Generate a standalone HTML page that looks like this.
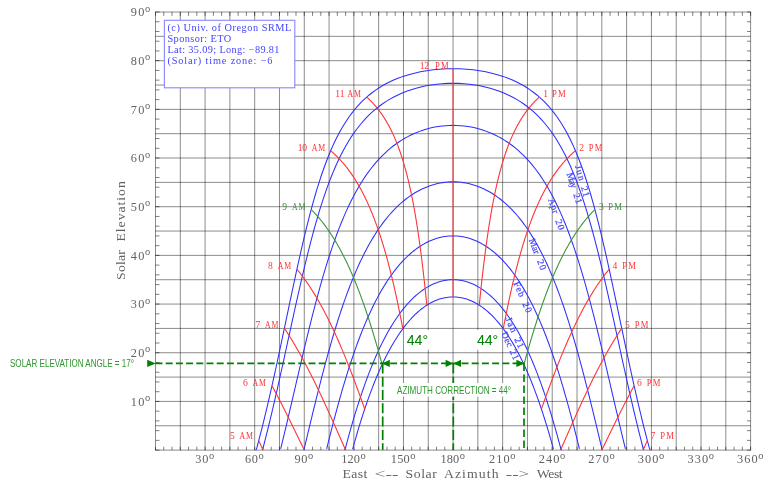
<!DOCTYPE html>
<html><head><meta charset="utf-8"><title>Sun path chart</title>
<style>html,body{margin:0;padding:0;background:#fff}svg{display:block;will-change:transform}</style></head>
<body>
<svg width="768" height="486" viewBox="0 0 768 486">
<rect width="768" height="486" fill="#fff"/>
<path d="M155.5 11.75V450.35M180.3 11.75V450.35M205.09 11.75V450.35M229.89 11.75V450.35M254.68 11.75V450.35M279.48 11.75V450.35M304.27 11.75V450.35M329.07 11.75V450.35M353.87 11.75V450.35M378.66 11.75V450.35M403.46 11.75V450.35M428.25 11.75V450.35M453.05 11.75V450.35M477.85 11.75V450.35M502.64 11.75V450.35M527.44 11.75V450.35M552.23 11.75V450.35M577.03 11.75V450.35M601.83 11.75V450.35M626.62 11.75V450.35M651.42 11.75V450.35M676.21 11.75V450.35M701.01 11.75V450.35M725.8 11.75V450.35M750.6 11.75V450.35M155.25 450.1H750.85M155.25 425.76H750.85M155.25 401.42H750.85M155.25 377.08H750.85M155.25 352.74H750.85M155.25 328.41H750.85M155.25 304.07H750.85M155.25 279.73H750.85M155.25 255.39H750.85M155.25 231.05H750.85M155.25 206.71H750.85M155.25 182.37H750.85M155.25 158.03H750.85M155.25 133.69H750.85M155.25 109.36H750.85M155.25 85.02H750.85M155.25 60.68H750.85M155.25 36.34H750.85M155.25 12.0H750.85" stroke="#000" stroke-width="0.46" fill="none"/>
<path d="M155.5 450.1v-3.4M155.5 12.0v3.9M163.77 450.1v-3.4M163.77 12.0v3.9M172.03 450.1v-3.4M172.03 12.0v3.9M180.3 450.1v-3.4M180.3 12.0v3.9M188.56 450.1v-3.4M188.56 12.0v3.9M196.83 450.1v-3.4M196.83 12.0v3.9M205.09 450.1v-3.4M205.09 12.0v3.9M213.36 450.1v-3.4M213.36 12.0v3.9M221.62 450.1v-3.4M221.62 12.0v3.9M229.89 450.1v-3.4M229.89 12.0v3.9M238.15 450.1v-3.4M238.15 12.0v3.9M246.42 450.1v-3.4M246.42 12.0v3.9M254.68 450.1v-3.4M254.68 12.0v3.9M262.95 450.1v-3.4M262.95 12.0v3.9M271.21 450.1v-3.4M271.21 12.0v3.9M279.48 450.1v-3.4M279.48 12.0v3.9M287.74 450.1v-3.4M287.74 12.0v3.9M296.01 450.1v-3.4M296.01 12.0v3.9M304.27 450.1v-3.4M304.27 12.0v3.9M312.54 450.1v-3.4M312.54 12.0v3.9M320.81 450.1v-3.4M320.81 12.0v3.9M329.07 450.1v-3.4M329.07 12.0v3.9M337.34 450.1v-3.4M337.34 12.0v3.9M345.6 450.1v-3.4M345.6 12.0v3.9M353.87 450.1v-3.4M353.87 12.0v3.9M362.13 450.1v-3.4M362.13 12.0v3.9M370.4 450.1v-3.4M370.4 12.0v3.9M378.66 450.1v-3.4M378.66 12.0v3.9M386.93 450.1v-3.4M386.93 12.0v3.9M395.19 450.1v-3.4M395.19 12.0v3.9M403.46 450.1v-3.4M403.46 12.0v3.9M411.72 450.1v-3.4M411.72 12.0v3.9M419.99 450.1v-3.4M419.99 12.0v3.9M428.25 450.1v-3.4M428.25 12.0v3.9M436.52 450.1v-3.4M436.52 12.0v3.9M444.78 450.1v-3.4M444.78 12.0v3.9M453.05 450.1v-3.4M453.05 12.0v3.9M461.32 450.1v-3.4M461.32 12.0v3.9M469.58 450.1v-3.4M469.58 12.0v3.9M477.85 450.1v-3.4M477.85 12.0v3.9M486.11 450.1v-3.4M486.11 12.0v3.9M494.38 450.1v-3.4M494.38 12.0v3.9M502.64 450.1v-3.4M502.64 12.0v3.9M510.91 450.1v-3.4M510.91 12.0v3.9M519.17 450.1v-3.4M519.17 12.0v3.9M527.44 450.1v-3.4M527.44 12.0v3.9M535.7 450.1v-3.4M535.7 12.0v3.9M543.97 450.1v-3.4M543.97 12.0v3.9M552.23 450.1v-3.4M552.23 12.0v3.9M560.5 450.1v-3.4M560.5 12.0v3.9M568.76 450.1v-3.4M568.76 12.0v3.9M577.03 450.1v-3.4M577.03 12.0v3.9M585.29 450.1v-3.4M585.29 12.0v3.9M593.56 450.1v-3.4M593.56 12.0v3.9M601.83 450.1v-3.4M601.83 12.0v3.9M610.09 450.1v-3.4M610.09 12.0v3.9M618.36 450.1v-3.4M618.36 12.0v3.9M626.62 450.1v-3.4M626.62 12.0v3.9M634.89 450.1v-3.4M634.89 12.0v3.9M643.15 450.1v-3.4M643.15 12.0v3.9M651.42 450.1v-3.4M651.42 12.0v3.9M659.68 450.1v-3.4M659.68 12.0v3.9M667.95 450.1v-3.4M667.95 12.0v3.9M676.21 450.1v-3.4M676.21 12.0v3.9M684.48 450.1v-3.4M684.48 12.0v3.9M692.74 450.1v-3.4M692.74 12.0v3.9M701.01 450.1v-3.4M701.01 12.0v3.9M709.27 450.1v-3.4M709.27 12.0v3.9M717.54 450.1v-3.4M717.54 12.0v3.9M725.8 450.1v-3.4M725.8 12.0v3.9M734.07 450.1v-3.4M734.07 12.0v3.9M742.33 450.1v-3.4M742.33 12.0v3.9M750.6 450.1v-3.4M750.6 12.0v3.9M155.5 450.1h4.0M750.6 450.1h-3.6M155.5 440.36h4.0M750.6 440.36h-3.6M155.5 430.63h4.0M750.6 430.63h-3.6M155.5 420.89h4.0M750.6 420.89h-3.6M155.5 411.16h4.0M750.6 411.16h-3.6M155.5 401.42h4.0M750.6 401.42h-3.6M155.5 391.69h4.0M750.6 391.69h-3.6M155.5 381.95h4.0M750.6 381.95h-3.6M155.5 372.22h4.0M750.6 372.22h-3.6M155.5 362.48h4.0M750.6 362.48h-3.6M155.5 352.74h4.0M750.6 352.74h-3.6M155.5 343.01h4.0M750.6 343.01h-3.6M155.5 333.27h4.0M750.6 333.27h-3.6M155.5 323.54h4.0M750.6 323.54h-3.6M155.5 313.8h4.0M750.6 313.8h-3.6M155.5 304.07h4.0M750.6 304.07h-3.6M155.5 294.33h4.0M750.6 294.33h-3.6M155.5 284.6h4.0M750.6 284.6h-3.6M155.5 274.86h4.0M750.6 274.86h-3.6M155.5 265.12h4.0M750.6 265.12h-3.6M155.5 255.39h4.0M750.6 255.39h-3.6M155.5 245.65h4.0M750.6 245.65h-3.6M155.5 235.92h4.0M750.6 235.92h-3.6M155.5 226.18h4.0M750.6 226.18h-3.6M155.5 216.45h4.0M750.6 216.45h-3.6M155.5 206.71h4.0M750.6 206.71h-3.6M155.5 196.98h4.0M750.6 196.98h-3.6M155.5 187.24h4.0M750.6 187.24h-3.6M155.5 177.5h4.0M750.6 177.5h-3.6M155.5 167.77h4.0M750.6 167.77h-3.6M155.5 158.03h4.0M750.6 158.03h-3.6M155.5 148.3h4.0M750.6 148.3h-3.6M155.5 138.56h4.0M750.6 138.56h-3.6M155.5 128.83h4.0M750.6 128.83h-3.6M155.5 119.09h4.0M750.6 119.09h-3.6M155.5 109.36h4.0M750.6 109.36h-3.6M155.5 99.62h4.0M750.6 99.62h-3.6M155.5 89.88h4.0M750.6 89.88h-3.6M155.5 80.15h4.0M750.6 80.15h-3.6M155.5 70.41h4.0M750.6 70.41h-3.6M155.5 60.68h4.0M750.6 60.68h-3.6M155.5 50.94h4.0M750.6 50.94h-3.6M155.5 41.21h4.0M750.6 41.21h-3.6M155.5 31.47h4.0M750.6 31.47h-3.6M155.5 21.74h4.0M750.6 21.74h-3.6M155.5 12.0h4.0M750.6 12.0h-3.6" stroke="#000" stroke-width="0.5" fill="none"/>
<path d="M255.94 450.10L256.79 447.89L257.64 444.74L258.48 441.57L259.32 438.39L260.15 435.19L260.97 431.98L261.79 428.76L262.60 425.52L263.40 422.27L264.21 419.01L265.00 415.74L265.80 412.45L266.58 409.15L267.37 405.84L268.15 402.52L268.92 399.19L269.69 395.84L270.46 392.49L271.22 389.13L271.99 385.75L272.74 382.37L273.50 378.98L274.25 375.58L275.00 372.16L275.75 368.75L276.50 365.32L277.24 361.88L277.98 358.44L278.72 354.99L279.46 351.53L280.20 348.06L280.94 344.59L281.68 341.11L282.41 337.62L283.15 334.13L283.88 330.63L284.62 327.13L285.36 323.62L286.10 320.10L286.84 316.58L287.58 313.05L288.32 309.52L289.06 305.98L289.81 302.44L290.55 298.90L291.31 295.35L292.06 291.80L292.82 288.24L293.58 284.68L294.34 281.11L295.11 277.55L295.89 273.98L296.66 270.41L297.45 266.83L298.24 263.26L299.04 259.68L299.84 256.10L300.65 252.52L301.47 248.93L302.30 245.35L303.14 241.77L303.98 238.18L304.84 234.60L305.71 231.01L306.59 227.43L307.48 223.84L308.39 220.26L309.31 216.68L310.24 213.10L311.19 209.53L312.16 205.95L313.14 202.38L314.15 198.81L315.17 195.25L316.22 191.69L317.29 188.14L318.39 184.59L319.51 181.05L320.66 177.51L321.84 173.99L323.06 170.47L324.31 166.96L325.59 163.46L326.92 159.97L328.29 156.49L329.70 153.03L331.17 149.58L332.68 146.15L334.26 142.73L335.89 139.34L337.59 135.96L339.37 132.61L341.22 129.28L343.15 125.98L345.17 122.70L347.29 119.47L349.52 116.26L351.86 113.10L354.32 109.98L356.92 106.91L359.67 103.89L362.57 100.93L365.64 98.04L368.89 95.22L372.35 92.48L376.01 89.83L379.90 87.27L384.03 84.83L388.41 82.50L393.06 80.31L397.97 78.26L403.17 76.38L408.64 74.66L414.38 73.14L420.37 71.82L426.60 70.72L433.02 69.85L439.61 69.22L446.30 68.84L453.05 68.71L459.80 68.84L466.49 69.22L473.08 69.85L479.50 70.72L485.73 71.82L491.72 73.14L497.46 74.66L502.93 76.38L508.13 78.26L513.04 80.31L517.69 82.50L522.07 84.83L526.20 87.27L530.09 89.83L533.75 92.48L537.21 95.22L540.46 98.04L543.53 100.93L546.43 103.89L549.18 106.91L551.78 109.98L554.24 113.10L556.58 116.26L558.81 119.47L560.93 122.70L562.95 125.98L564.88 129.28L566.73 132.61L568.51 135.96L570.21 139.34L571.84 142.73L573.42 146.15L574.93 149.58L576.40 153.03L577.81 156.49L579.18 159.97L580.51 163.46L581.79 166.96L583.04 170.47L584.26 173.99L585.44 177.51L586.59 181.05L587.71 184.59L588.81 188.14L589.88 191.69L590.93 195.25L591.95 198.81L592.96 202.38L593.94 205.95L594.91 209.53L595.86 213.10L596.79 216.68L597.71 220.26L598.62 223.84L599.51 227.43L600.39 231.01L601.26 234.60L602.12 238.18L602.96 241.77L603.80 245.35L604.63 248.93L605.45 252.52L606.26 256.10L607.06 259.68L607.86 263.26L608.65 266.83L609.44 270.41L610.21 273.98L610.99 277.55L611.76 281.11L612.52 284.68L613.28 288.24L614.04 291.80L614.79 295.35L615.55 298.90L616.29 302.44L617.04 305.98L617.78 309.52L618.52 313.05L619.26 316.58L620.00 320.10L620.74 323.62L621.48 327.13L622.22 330.63L622.95 334.13L623.69 337.62L624.42 341.11L625.16 344.59L625.90 348.06L626.64 351.53L627.38 354.99L628.12 358.44L628.86 361.88L629.60 365.32L630.35 368.75L631.10 372.16L631.85 375.58L632.60 378.98L633.36 382.37L634.11 385.75L634.88 389.13L635.64 392.49L636.41 395.84L637.18 399.19L637.95 402.52L638.73 405.84L639.52 409.15L640.30 412.45L641.10 415.74L641.89 419.01L642.70 422.27L643.50 425.52L644.31 428.76L645.13 431.98L645.95 435.19L646.78 438.39L647.62 441.57L648.46 444.74L649.31 447.89L650.16 450.10" stroke="#2e2eff" stroke-width="1.05" fill="none"/>
<path d="M262.38 450.10L263.24 447.26L264.08 444.00L264.93 440.73L265.76 437.44L266.59 434.14L267.42 430.83L268.24 427.51L269.05 424.17L269.87 420.83L270.67 417.47L271.48 414.11L272.28 410.73L273.07 407.34L273.87 403.94L274.66 400.54L275.44 397.12L276.23 393.70L277.01 390.27L277.79 386.82L278.56 383.37L279.34 379.92L280.11 376.45L280.88 372.98L281.65 369.50L282.42 366.01L283.19 362.52L283.96 359.02L284.72 355.52L285.49 352.00L286.26 348.49L287.03 344.96L287.80 341.44L288.56 337.90L289.33 334.37L290.11 330.82L290.88 327.28L291.66 323.72L292.43 320.17L293.21 316.61L294.00 313.05L294.78 309.48L295.57 305.92L296.37 302.34L297.16 298.77L297.97 295.20L298.77 291.62L299.59 288.04L300.41 284.46L301.23 280.87L302.06 277.29L302.90 273.71L303.75 270.12L304.60 266.54L305.46 262.95L306.34 259.37L307.22 255.79L308.11 252.20L309.01 248.62L309.93 245.04L310.86 241.47L311.80 237.89L312.75 234.32L313.72 230.75L314.70 227.18L315.71 223.62L316.72 220.07L317.76 216.52L318.82 212.97L319.90 209.43L321.00 205.90L322.12 202.37L323.27 198.86L324.44 195.35L325.65 191.85L326.88 188.36L328.14 184.88L329.44 181.42L330.77 177.97L332.14 174.53L333.56 171.10L335.01 167.70L336.51 164.31L338.06 160.94L339.66 157.59L341.32 154.27L343.03 150.96L344.81 147.69L346.65 144.44L348.57 141.23L350.56 138.04L352.64 134.90L354.80 131.79L357.05 128.72L359.40 125.71L361.86 122.74L364.43 119.82L367.13 116.97L369.94 114.18L372.89 111.46L375.99 108.81L379.23 106.25L382.63 103.77L386.19 101.40L389.92 99.13L393.83 96.97L397.91 94.93L402.17 93.03L406.62 91.27L411.24 89.66L416.03 88.21L420.98 86.93L426.07 85.83L431.30 84.92L436.64 84.20L442.06 83.68L447.54 83.37L453.05 83.26L458.56 83.37L464.04 83.68L469.46 84.20L474.80 84.92L480.03 85.83L485.12 86.93L490.07 88.21L494.86 89.66L499.48 91.27L503.93 93.03L508.19 94.93L512.27 96.97L516.18 99.13L519.91 101.40L523.47 103.77L526.87 106.25L530.11 108.81L533.21 111.46L536.16 114.18L538.97 116.97L541.67 119.82L544.24 122.74L546.70 125.71L549.05 128.72L551.30 131.79L553.46 134.90L555.54 138.04L557.53 141.23L559.45 144.44L561.29 147.69L563.07 150.96L564.78 154.27L566.44 157.59L568.04 160.94L569.59 164.31L571.09 167.70L572.54 171.10L573.96 174.53L575.33 177.97L576.66 181.42L577.96 184.88L579.22 188.36L580.45 191.85L581.66 195.35L582.83 198.86L583.98 202.37L585.10 205.90L586.20 209.43L587.28 212.97L588.34 216.52L589.38 220.07L590.39 223.62L591.40 227.18L592.38 230.75L593.35 234.32L594.30 237.89L595.24 241.47L596.17 245.04L597.09 248.62L597.99 252.20L598.88 255.79L599.76 259.37L600.64 262.95L601.50 266.54L602.35 270.12L603.20 273.71L604.04 277.29L604.87 280.87L605.69 284.46L606.51 288.04L607.33 291.62L608.13 295.20L608.94 298.77L609.73 302.34L610.53 305.92L611.32 309.48L612.10 313.05L612.89 316.61L613.67 320.17L614.44 323.72L615.22 327.28L615.99 330.82L616.77 334.37L617.54 337.90L618.30 341.44L619.07 344.96L619.84 348.49L620.61 352.00L621.38 355.52L622.14 359.02L622.91 362.52L623.68 366.01L624.45 369.50L625.22 372.98L625.99 376.45L626.76 379.92L627.54 383.37L628.31 386.82L629.09 390.27L629.87 393.70L630.66 397.12L631.44 400.54L632.23 403.94L633.03 407.34L633.82 410.73L634.62 414.11L635.43 417.47L636.23 420.83L637.05 424.17L637.86 427.51L638.68 430.83L639.51 434.14L640.34 437.44L641.17 440.73L642.02 444.00L642.86 447.26L643.72 450.10" stroke="#2e2eff" stroke-width="1.05" fill="none"/>
<path d="M280.67 448.79L281.53 445.31L282.37 441.83L283.22 438.33L284.06 434.83L284.90 431.33L285.74 427.81L286.57 424.29L287.41 420.77L288.24 417.24L289.07 413.70L289.90 410.16L290.73 406.61L291.56 403.06L292.38 399.51L293.21 395.95L294.04 392.39L294.87 388.82L295.69 385.25L296.52 381.68L297.35 378.11L298.19 374.53L299.02 370.95L299.86 367.37L300.70 363.79L301.54 360.21L302.38 356.63L303.23 353.04L304.09 349.46L304.94 345.87L305.80 342.29L306.67 338.70L307.54 335.12L308.42 331.54L309.30 327.96L310.19 324.38L311.08 320.80L311.99 317.23L312.90 313.66L313.81 310.09L314.74 306.52L315.68 302.96L316.62 299.41L317.58 295.85L318.54 292.31L319.52 288.77L320.51 285.23L321.51 281.70L322.52 278.18L323.55 274.67L324.59 271.16L325.65 267.66L326.72 264.17L327.81 260.69L328.91 257.22L330.04 253.76L331.18 250.32L332.34 246.88L333.53 243.46L334.73 240.05L335.96 236.66L337.21 233.28L338.49 229.92L339.79 226.57L341.12 223.25L342.47 219.94L343.86 216.65L345.28 213.39L346.73 210.15L348.22 206.93L349.74 203.73L351.30 200.57L352.90 197.43L354.54 194.32L356.22 191.25L357.94 188.21L359.71 185.20L361.53 182.23L363.40 179.30L365.33 176.41L367.30 173.57L369.34 170.78L371.43 168.03L373.58 165.33L375.79 162.70L378.07 160.12L380.42 157.60L382.83 155.14L385.31 152.76L387.87 150.44L390.50 148.20L393.20 146.04L395.97 143.97L398.83 141.98L401.75 140.09L404.76 138.29L407.83 136.59L410.98 134.99L414.20 133.51L417.49 132.14L420.84 130.88L424.25 129.75L427.72 128.74L431.24 127.85L434.80 127.10L438.40 126.48L442.04 126.00L445.69 125.65L449.37 125.44L453.05 125.37L456.73 125.44L460.41 125.65L464.06 126.00L467.70 126.48L471.30 127.10L474.86 127.85L478.38 128.74L481.85 129.75L485.26 130.88L488.61 132.14L491.90 133.51L495.12 134.99L498.27 136.59L501.34 138.29L504.35 140.09L507.27 141.98L510.13 143.97L512.90 146.04L515.60 148.20L518.23 150.44L520.79 152.76L523.27 155.14L525.68 157.60L528.03 160.12L530.31 162.70L532.52 165.33L534.67 168.03L536.76 170.78L538.80 173.57L540.77 176.41L542.70 179.30L544.57 182.23L546.39 185.20L548.16 188.21L549.88 191.25L551.56 194.32L553.20 197.43L554.80 200.57L556.36 203.73L557.88 206.93L559.37 210.15L560.82 213.39L562.24 216.65L563.63 219.94L564.98 223.25L566.31 226.57L567.61 229.92L568.89 233.28L570.14 236.66L571.37 240.05L572.57 243.46L573.76 246.88L574.92 250.32L576.06 253.76L577.19 257.22L578.29 260.69L579.38 264.17L580.45 267.66L581.51 271.16L582.55 274.67L583.58 278.18L584.59 281.70L585.59 285.23L586.58 288.77L587.56 292.31L588.52 295.85L589.48 299.41L590.42 302.96L591.36 306.52L592.29 310.09L593.20 313.66L594.11 317.23L595.02 320.80L595.91 324.38L596.80 327.96L597.68 331.54L598.56 335.12L599.43 338.70L600.30 342.29L601.16 345.87L602.01 349.46L602.87 353.04L603.72 356.63L604.56 360.21L605.40 363.79L606.24 367.37L607.08 370.95L607.91 374.53L608.75 378.11L609.58 381.68L610.41 385.25L611.23 388.82L612.06 392.39L612.89 395.95L613.72 399.51L614.54 403.06L615.37 406.61L616.20 410.16L617.03 413.70L617.86 417.24L618.69 420.77L619.53 424.29L620.36 427.81L621.20 431.33L622.04 434.83L622.88 438.33L623.73 441.83L624.57 445.31L625.43 448.79" stroke="#2e2eff" stroke-width="1.05" fill="none"/>
<path d="M304.00 449.54L304.86 445.96L305.72 442.37L306.57 438.79L307.43 435.20L308.29 431.62L309.15 428.04L310.01 424.46L310.87 420.88L311.74 417.31L312.60 413.74L313.47 410.17L314.35 406.60L315.23 403.04L316.11 399.48L316.99 395.93L317.88 392.38L318.78 388.83L319.67 385.29L320.58 381.76L321.49 378.23L322.41 374.70L323.33 371.19L324.26 367.68L325.19 364.18L326.14 360.68L327.09 357.20L328.05 353.72L329.02 350.25L330.00 346.80L330.98 343.35L331.98 339.91L332.99 336.48L334.00 333.07L335.03 329.66L336.07 326.27L337.12 322.89L338.19 319.53L339.27 316.18L340.36 312.84L341.46 309.52L342.58 306.22L343.72 302.93L344.87 299.66L346.03 296.41L347.22 293.18L348.42 289.97L349.63 286.78L350.87 283.60L352.13 280.46L353.40 277.33L354.70 274.23L356.01 271.15L357.35 268.10L358.71 265.08L360.10 262.09L361.51 259.12L362.94 256.19L364.40 253.29L365.88 250.42L367.39 247.58L368.93 244.78L370.49 242.02L372.09 239.29L373.71 236.61L375.36 233.97L377.05 231.37L378.76 228.81L380.51 226.30L382.29 223.84L384.10 221.43L385.95 219.07L387.82 216.77L389.74 214.52L391.69 212.32L393.67 210.19L395.69 208.12L397.74 206.11L399.83 204.17L401.95 202.29L404.11 200.48L406.30 198.75L408.53 197.09L410.79 195.50L413.08 193.99L415.41 192.57L417.76 191.22L420.15 189.96L422.56 188.78L425.00 187.69L427.46 186.69L429.95 185.78L432.46 184.96L434.99 184.23L437.54 183.60L440.10 183.06L442.67 182.62L445.26 182.28L447.85 182.03L450.45 181.89L453.05 181.84L455.65 181.89L458.25 182.03L460.84 182.28L463.43 182.62L466.00 183.06L468.56 183.60L471.11 184.23L473.64 184.96L476.15 185.78L478.64 186.69L481.10 187.69L483.54 188.78L485.95 189.96L488.34 191.22L490.69 192.57L493.02 193.99L495.31 195.50L497.57 197.09L499.80 198.75L501.99 200.48L504.15 202.29L506.27 204.17L508.36 206.11L510.41 208.12L512.43 210.19L514.41 212.32L516.36 214.52L518.28 216.77L520.15 219.07L522.00 221.43L523.81 223.84L525.59 226.30L527.34 228.81L529.05 231.37L530.74 233.97L532.39 236.61L534.01 239.29L535.61 242.02L537.17 244.78L538.71 247.58L540.22 250.42L541.70 253.29L543.16 256.19L544.59 259.12L546.00 262.09L547.39 265.08L548.75 268.10L550.09 271.15L551.40 274.23L552.70 277.33L553.97 280.46L555.23 283.60L556.47 286.78L557.68 289.97L558.88 293.18L560.07 296.41L561.23 299.66L562.38 302.93L563.52 306.22L564.64 309.52L565.74 312.84L566.83 316.18L567.91 319.53L568.98 322.89L570.03 326.27L571.07 329.66L572.10 333.07L573.11 336.48L574.12 339.91L575.12 343.35L576.10 346.80L577.08 350.25L578.05 353.72L579.01 357.20L579.96 360.68L580.91 364.18L581.84 367.68L582.77 371.19L583.69 374.70L584.61 378.23L585.52 381.76L586.43 385.29L587.32 388.83L588.22 392.38L589.11 395.93L589.99 399.48L590.87 403.04L591.75 406.60L592.63 410.17L593.50 413.74L594.36 417.31L595.23 420.88L596.09 424.46L596.95 428.04L597.81 431.62L598.67 435.20L599.53 438.79L600.38 442.37L601.24 445.96L602.10 449.54" stroke="#2e2eff" stroke-width="1.05" fill="none"/>
<path d="M326.67 448.84L327.53 445.36L328.39 441.89L329.26 438.42L330.13 434.97L331.00 431.52L331.88 428.08L332.77 424.65L333.66 421.23L334.56 417.83L335.46 414.43L336.37 411.04L337.29 407.67L338.21 404.30L339.14 400.95L340.07 397.61L341.02 394.29L341.97 390.98L342.93 387.68L343.90 384.40L344.88 381.13L345.87 377.88L346.87 374.64L347.87 371.42L348.89 368.22L349.92 365.03L350.96 361.86L352.01 358.72L353.07 355.59L354.14 352.48L355.22 349.39L356.32 346.32L357.43 343.27L358.55 340.25L359.69 337.25L360.84 334.27L362.00 331.32L363.18 328.40L364.38 325.49L365.58 322.62L366.81 319.78L368.05 316.96L369.30 314.17L370.58 311.41L371.87 308.69L373.17 305.99L374.50 303.33L375.84 300.71L377.20 298.12L378.58 295.56L379.97 293.04L381.39 290.56L382.82 288.12L384.28 285.72L385.75 283.36L387.25 281.04L388.76 278.77L390.29 276.54L391.85 274.36L393.42 272.23L395.02 270.14L396.63 268.10L398.27 266.12L399.92 264.18L401.60 262.30L403.30 260.48L405.01 258.71L406.75 257.00L408.51 255.34L410.28 253.75L412.08 252.21L413.89 250.74L415.72 249.33L417.57 247.99L419.44 246.71L421.32 245.50L423.22 244.35L425.14 243.28L427.06 242.27L429.01 241.34L430.96 240.47L432.93 239.68L434.91 238.96L436.90 238.32L438.90 237.74L440.91 237.25L442.92 236.83L444.94 236.48L446.96 236.21L448.99 236.02L451.02 235.91L453.05 235.87L455.08 235.91L457.11 236.02L459.14 236.21L461.16 236.48L463.18 236.83L465.19 237.25L467.20 237.74L469.20 238.32L471.19 238.96L473.17 239.68L475.14 240.47L477.09 241.34L479.04 242.27L480.96 243.28L482.88 244.35L484.78 245.50L486.66 246.71L488.53 247.99L490.38 249.33L492.21 250.74L494.02 252.21L495.82 253.75L497.59 255.34L499.35 257.00L501.09 258.71L502.80 260.48L504.50 262.30L506.18 264.18L507.83 266.12L509.47 268.10L511.08 270.14L512.68 272.23L514.25 274.36L515.81 276.54L517.34 278.77L518.85 281.04L520.35 283.36L521.82 285.72L523.28 288.12L524.71 290.56L526.13 293.04L527.52 295.56L528.90 298.12L530.26 300.71L531.60 303.33L532.93 305.99L534.23 308.69L535.52 311.41L536.80 314.17L538.05 316.96L539.29 319.78L540.52 322.62L541.72 325.49L542.92 328.40L544.10 331.32L545.26 334.27L546.41 337.25L547.55 340.25L548.67 343.27L549.78 346.32L550.88 349.39L551.96 352.48L553.03 355.59L554.09 358.72L555.14 361.86L556.18 365.03L557.21 368.22L558.23 371.42L559.23 374.64L560.23 377.88L561.22 381.13L562.20 384.40L563.17 387.68L564.13 390.98L565.08 394.29L566.03 397.61L566.96 400.95L567.89 404.30L568.81 407.67L569.73 411.04L570.64 414.43L571.54 417.83L572.44 421.23L573.33 424.65L574.22 428.08L575.10 431.52L575.97 434.97L576.84 438.42L577.71 441.89L578.57 445.36L579.43 448.84" stroke="#2e2eff" stroke-width="1.05" fill="none"/>
<path d="M344.59 450.10L345.45 448.05L346.31 444.81L347.18 441.58L348.05 438.36L348.94 435.16L349.82 431.97L350.72 428.80L351.62 425.65L352.53 422.51L353.45 419.39L354.38 416.29L355.31 413.20L356.25 410.13L357.21 407.08L358.17 404.05L359.13 401.04L360.11 398.05L361.10 395.08L362.10 392.14L363.11 389.21L364.12 386.31L365.15 383.43L366.19 380.57L367.24 377.73L368.30 374.92L369.37 372.14L370.45 369.38L371.55 366.65L372.65 363.95L373.77 361.27L374.90 358.62L376.04 356.00L377.20 353.42L378.37 350.86L379.55 348.33L380.74 345.84L381.95 343.37L383.17 340.95L384.40 338.55L385.65 336.19L386.91 333.87L388.18 331.58L389.47 329.33L390.78 327.12L392.09 324.95L393.42 322.82L394.77 320.73L396.13 318.68L397.50 316.68L398.89 314.72L400.29 312.80L401.71 310.93L403.14 309.10L404.59 307.32L406.04 305.59L407.52 303.91L409.00 302.27L410.50 300.69L412.02 299.16L413.54 297.68L415.08 296.26L416.63 294.89L418.19 293.57L419.77 292.31L421.36 291.10L422.95 289.95L424.56 288.86L426.18 287.83L427.81 286.85L429.45 285.94L431.10 285.09L432.75 284.29L434.41 283.56L436.08 282.89L437.76 282.28L439.45 281.74L441.13 281.26L442.83 280.84L444.52 280.49L446.23 280.20L447.93 279.97L449.63 279.81L451.34 279.71L453.05 279.68L454.76 279.71L456.47 279.81L458.17 279.97L459.87 280.20L461.58 280.49L463.27 280.84L464.97 281.26L466.65 281.74L468.34 282.28L470.02 282.89L471.69 283.56L473.35 284.29L475.00 285.09L476.65 285.94L478.29 286.85L479.92 287.83L481.54 288.86L483.15 289.95L484.74 291.10L486.33 292.31L487.91 293.57L489.47 294.89L491.02 296.26L492.56 297.68L494.08 299.16L495.60 300.69L497.10 302.27L498.58 303.91L500.06 305.59L501.51 307.32L502.96 309.10L504.39 310.93L505.81 312.80L507.21 314.72L508.60 316.68L509.97 318.68L511.33 320.73L512.68 322.82L514.01 324.95L515.32 327.12L516.63 329.33L517.92 331.58L519.19 333.87L520.45 336.19L521.70 338.55L522.93 340.95L524.15 343.37L525.36 345.84L526.55 348.33L527.73 350.86L528.90 353.42L530.06 356.00L531.20 358.62L532.33 361.27L533.45 363.95L534.55 366.65L535.65 369.38L536.73 372.14L537.80 374.92L538.86 377.73L539.91 380.57L540.95 383.43L541.98 386.31L542.99 389.21L544.00 392.14L545.00 395.08L545.99 398.05L546.97 401.04L547.93 404.05L548.89 407.08L549.85 410.13L550.79 413.20L551.72 416.29L552.65 419.39L553.57 422.51L554.48 425.65L555.38 428.80L556.28 431.97L557.16 435.16L558.05 438.36L558.92 441.58L559.79 444.81L560.65 448.05L561.51 450.10" stroke="#2e2eff" stroke-width="1.05" fill="none"/>
<path d="M352.61 449.18L353.47 446.06L354.34 442.95L355.21 439.87L356.10 436.79L356.98 433.74L357.88 430.71L358.79 427.69L359.70 424.69L360.62 421.71L361.55 418.76L362.49 415.82L363.43 412.90L364.39 410.00L365.35 407.12L366.33 404.27L367.31 401.44L368.30 398.63L369.30 395.85L370.32 393.09L371.34 390.35L372.37 387.64L373.41 384.96L374.47 382.30L375.53 379.67L376.61 377.06L377.69 374.49L378.79 371.94L379.90 369.43L381.02 366.94L382.15 364.49L383.30 362.06L384.45 359.67L385.62 357.31L386.80 354.99L387.99 352.70L389.20 350.44L390.41 348.22L391.64 346.04L392.88 343.89L394.14 341.78L395.40 339.71L396.68 337.68L397.97 335.70L399.28 333.75L400.59 331.84L401.92 329.98L403.26 328.16L404.62 326.38L405.98 324.65L407.36 322.96L408.75 321.32L410.15 319.73L411.57 318.18L412.99 316.69L414.43 315.24L415.88 313.85L417.33 312.50L418.80 311.21L420.28 309.96L421.77 308.78L423.27 307.64L424.78 306.56L426.30 305.53L427.82 304.56L429.36 303.64L430.90 302.79L432.45 301.98L434.01 301.24L435.57 300.55L437.14 299.92L438.72 299.35L440.30 298.84L441.88 298.39L443.47 298.00L445.06 297.67L446.65 297.40L448.25 297.18L449.85 297.03L451.45 296.94L453.05 296.91L454.65 296.94L456.25 297.03L457.85 297.18L459.45 297.40L461.04 297.67L462.63 298.00L464.22 298.39L465.80 298.84L467.38 299.35L468.96 299.92L470.53 300.55L472.09 301.24L473.65 301.98L475.20 302.79L476.74 303.64L478.28 304.56L479.80 305.53L481.32 306.56L482.83 307.64L484.33 308.78L485.82 309.96L487.30 311.21L488.77 312.50L490.22 313.85L491.67 315.24L493.11 316.69L494.53 318.18L495.95 319.73L497.35 321.32L498.74 322.96L500.12 324.65L501.48 326.38L502.84 328.16L504.18 329.98L505.51 331.84L506.82 333.75L508.13 335.70L509.42 337.68L510.70 339.71L511.96 341.78L513.22 343.89L514.46 346.04L515.69 348.22L516.90 350.44L518.11 352.70L519.30 354.99L520.48 357.31L521.65 359.67L522.80 362.06L523.95 364.49L525.08 366.94L526.20 369.43L527.31 371.94L528.41 374.49L529.49 377.06L530.57 379.67L531.63 382.30L532.69 384.96L533.73 387.64L534.76 390.35L535.78 393.09L536.80 395.85L537.80 398.63L538.79 401.44L539.77 404.27L540.75 407.12L541.71 410.00L542.67 412.90L543.61 415.82L544.55 418.76L545.48 421.71L546.40 424.69L547.31 427.69L548.22 430.71L549.12 433.74L550.00 436.79L550.89 439.87L551.76 442.95L552.63 446.06L553.49 449.18" stroke="#2e2eff" stroke-width="1.05" fill="none"/>
<path d="M262.74 449.60L262.44 448.90L262.13 448.20L261.82 447.50L261.52 446.80L261.21 446.10L260.91 445.40L260.60 444.70L260.29 444.00L259.99 443.31L259.68 442.61L259.37 441.91L259.07 441.21L258.76 440.51" stroke="#ff3338" stroke-width="1.1" fill="none"/>
<path d="M304.27 450.10L303.96 449.44L303.64 448.79L303.32 448.13L303.01 447.48L302.69 446.82L302.37 446.16L302.06 445.51L301.74 444.85L301.42 444.20L301.10 443.54L300.79 442.89L300.47 442.23L300.15 441.58L299.83 440.92L299.52 440.27L299.20 439.61L298.88 438.96L298.56 438.30L298.25 437.65L297.93 436.99L297.61 436.34L297.29 435.68L296.98 435.03L296.66 434.37L296.34 433.72L296.02 433.07L295.70 432.41L295.38 431.76L295.07 431.11L294.75 430.46L294.43 429.80L294.11 429.15L293.79 428.50L293.47 427.85L293.15 427.20L292.83 426.54L292.51 425.89L292.19 425.24L291.88 424.59L291.56 423.94L291.24 423.29L290.92 422.64L290.60 421.99L290.27 421.34L289.95 420.70L289.63 420.05L289.31 419.40L288.99 418.75L288.67 418.10L288.35 417.46L288.03 416.81L287.71 416.17L287.38 415.52L287.06 414.87L286.74 414.23L286.42 413.58L286.09 412.94L285.77 412.30L285.45 411.65L285.13 411.01L284.80 410.37L284.48 409.73L284.15 409.09L283.83 408.44L283.51 407.80L283.18 407.16L282.86 406.52L282.53 405.89L282.21 405.25L281.88 404.61L281.56 403.97L281.23 403.33L280.90 402.70L280.58 402.06L280.25 401.43L279.92 400.79L279.60 400.16L279.27 399.53L278.94 398.89L278.61 398.26L278.28 397.63L277.95 397.00L277.63 396.37L277.30 395.74L276.97 395.11L276.64 394.48L276.31 393.85L275.98 393.22L275.65 392.60L275.31 391.97L274.98 391.35L274.65 390.72L274.32 390.10L273.99 389.48L273.65 388.85L273.32 388.23L272.99 387.61L272.65 386.99L272.32 386.37L271.99 385.75" stroke="#ff3338" stroke-width="1.1" fill="none"/>
<path d="M345.50 449.91L345.19 449.21L344.89 448.51L344.58 447.81L344.28 447.11L343.97 446.41L343.66 445.71L343.36 445.01L343.05 444.31L342.74 443.61L342.44 442.92L342.13 442.22L341.82 441.52L341.52 440.82L341.21 440.12L340.90 439.42L340.60 438.73L340.29 438.03L339.98 437.33L339.68 436.63L339.37 435.93L339.06 435.24L338.76 434.54L338.45 433.84L338.14 433.15L337.83 432.45L337.53 431.75L337.22 431.06L336.91 430.36L336.60 429.66L336.30 428.97L335.99 428.27L335.68 427.58L335.37 426.88L335.06 426.19L334.75 425.49L334.45 424.80L334.14 424.10L333.83 423.41L333.52 422.72L333.21 422.02L332.90 421.33L332.59 420.64L332.28 419.95L331.97 419.25L331.66 418.56L331.35 417.87L331.04 417.18L330.73 416.49L330.42 415.80L330.11 415.11L329.80 414.42L329.48 413.73L329.17 413.04L328.86 412.35L328.55 411.67L328.24 410.98L327.92 410.29L327.61 409.60L327.30 408.92L326.99 408.23L326.67 407.55L326.36 406.86L326.04 406.18L325.73 405.49L325.42 404.81L325.10 404.13L324.79 403.45L324.47 402.76L324.16 402.08L323.84 401.40L323.52 400.72L323.21 400.04L322.89 399.36L322.57 398.68L322.26 398.00L321.94 397.33L321.62 396.65L321.30 395.97L320.99 395.30L320.67 394.62L320.35 393.95L320.03 393.27L319.71 392.60L319.39 391.93L319.07 391.26L318.75 390.58L318.43 389.91L318.11 389.24L317.79 388.57L317.47 387.90L317.14 387.24L316.82 386.57L316.50 385.90L316.17 385.24L315.85 384.57L315.53 383.91L315.20 383.24L314.88 382.58L314.55 381.92L314.23 381.26L313.90 380.60L313.57 379.94L313.25 379.28L312.92 378.62L312.59 377.96L312.27 377.30L311.94 376.65L311.61 375.99L311.28 375.34L310.95 374.69L310.62 374.03L310.29 373.38L309.96 372.73L309.63 372.08L309.30 371.43L308.96 370.79L308.63 370.14L308.30 369.49L307.96 368.85L307.63 368.20L307.30 367.56L306.96 366.92L306.63 366.28L306.29 365.64L305.95 365.00L305.62 364.36L305.28 363.72L304.94 363.09L304.60 362.45L304.26 361.82L303.92 361.18L303.58 360.55L303.24 359.92L302.90 359.29L302.56 358.66L302.22 358.03L301.88 357.41L301.53 356.78L301.19 356.16L300.85 355.54L300.50 354.91L300.16 354.29L299.81 353.67L299.46 353.06L299.12 352.44L298.77 351.82L298.42 351.21L298.07 350.59L297.73 349.98L297.38 349.37L297.03 348.76L296.67 348.15L296.32 347.55L295.97 346.94L295.62 346.33L295.27 345.73L294.91 345.13L294.56 344.53L294.20 343.93L293.85 343.33L293.49 342.73L293.13 342.14L292.78 341.55L292.42 340.95L292.06 340.36L291.70 339.77L291.34 339.18L290.98 338.60L290.62 338.01L290.26 337.43L289.89 336.85L289.53 336.27L289.17 335.69L288.80 335.11L288.44 334.53L288.07 333.96L287.70 333.38L287.34 332.81L286.97 332.24L286.60 331.67L286.23 331.11L285.86 330.54L285.49 329.98L285.12 329.41L284.75 328.85L284.38 328.30" stroke="#ff3338" stroke-width="1.1" fill="none"/>
<path d="M364.71 409.04L364.43 408.24L364.15 407.45L363.87 406.65L363.58 405.86L363.30 405.06L363.02 404.27L362.74 403.48L362.46 402.68L362.17 401.89L361.89 401.10L361.61 400.31L361.32 399.51L361.04 398.72L360.75 397.93L360.47 397.14L360.18 396.35L359.90 395.56L359.61 394.77L359.33 393.99L359.04 393.20L358.76 392.41L358.47 391.62L358.18 390.84L357.89 390.05L357.61 389.27L357.32 388.48L357.03 387.70L356.74 386.92L356.45 386.13L356.16 385.35L355.87 384.57L355.58 383.79L355.29 383.01L355.00 382.23L354.71 381.45L354.41 380.67L354.12 379.89L353.83 379.11L353.54 378.34L353.24 377.56L352.95 376.78L352.65 376.01L352.36 375.24L352.06 374.46L351.77 373.69L351.47 372.92L351.17 372.15L350.88 371.38L350.58 370.61L350.28 369.84L349.98 369.07L349.68 368.30L349.38 367.53L349.08 366.77L348.78 366.00L348.48 365.24L348.18 364.48L347.87 363.71L347.57 362.95L347.27 362.19L346.96 361.43L346.66 360.67L346.35 359.91L346.05 359.15L345.74 358.40L345.44 357.64L345.13 356.89L344.82 356.13L344.51 355.38L344.20 354.63L343.89 353.88L343.58 353.13L343.27 352.38L342.96 351.63L342.65 350.88L342.33 350.13L342.02 349.39L341.71 348.64L341.39 347.90L341.08 347.16L340.76 346.42L340.44 345.68L340.13 344.94L339.81 344.20L339.49 343.46L339.17 342.73L338.85 341.99L338.53 341.26L338.21 340.52L337.89 339.79L337.56 339.06L337.24 338.33L336.92 337.61L336.59 336.88L336.27 336.15L335.94 335.43L335.61 334.71L335.28 333.98L334.96 333.26L334.63 332.54L334.30 331.83L333.97 331.11L333.63 330.39L333.30 329.68L332.97 328.97L332.63 328.25L332.30 327.54L331.96 326.83L331.63 326.13L331.29 325.42L330.95 324.72L330.61 324.01L330.27 323.31L329.93 322.61L329.59 321.91L329.25 321.21L328.91 320.52L328.56 319.82L328.22 319.13L327.87 318.44L327.52 317.75L327.18 317.06L326.83 316.37L326.48 315.68L326.13 315.00L325.78 314.32L325.43 313.63L325.07 312.96L324.72 312.28L324.36 311.60L324.01 310.93L323.65 310.25L323.29 309.58L322.94 308.91L322.58 308.25L322.22 307.58L321.86 306.91L321.49 306.25L321.13 305.59L320.77 304.93L320.40 304.27L320.03 303.62L319.67 302.96L319.30 302.31L318.93 301.66L318.56 301.01L318.19 300.37L317.81 299.72L317.44 299.08L317.07 298.44L316.69 297.80L316.32 297.17L315.94 296.53L315.56 295.90L315.18 295.27L314.80 294.64L314.42 294.01L314.03 293.39L313.65 292.76L313.26 292.14L312.88 291.52L312.49 290.91L312.10 290.29L311.71 289.68L311.32 289.07L310.93 288.46L310.54 287.86L310.14 287.25L309.75 286.65L309.35 286.05L308.96 285.46L308.56 284.86L308.16 284.27L307.76 283.68L307.36 283.09L306.95 282.51L306.55 281.93L306.14 281.35L305.74 280.77L305.33 280.19L304.92 279.62L304.51 279.05L304.10 278.48L303.69 277.91L303.27 277.35L302.86 276.79L302.44 276.23L302.03 275.68L301.61 275.12L301.19 274.57L300.77 274.03L300.34 273.48L299.92 272.94L299.50 272.40L299.07 271.86L298.65 271.33L298.22 270.79L297.79 270.27L297.36 269.74L296.93 269.22" stroke="#ff3338" stroke-width="1.1" fill="none"/>
<path d="M382.15 364.49L381.91 363.58L381.66 362.67L381.41 361.77L381.16 360.86L380.91 359.96L380.66 359.06L380.41 358.15L380.16 357.25L379.91 356.35L379.66 355.45L379.41 354.55L379.15 353.65L378.90 352.75L378.65 351.85L378.39 350.95L378.14 350.05L377.88 349.16L377.62 348.26L377.37 347.36L377.11 346.47L376.85 345.57L376.59 344.68L376.33 343.79L376.07 342.90L375.81 342.01L375.55 341.12L375.28 340.23L375.02 339.34L374.76 338.45L374.49 337.56L374.23 336.68L373.96 335.79L373.69 334.90L373.43 334.02L373.16 333.14L372.89 332.25L372.62 331.37L372.35 330.49L372.08 329.61L371.81 328.73L371.53 327.86L371.26 326.98L370.98 326.10L370.71 325.23L370.43 324.35L370.15 323.48L369.88 322.61L369.60 321.73L369.32 320.86L369.04 319.99L368.76 319.13L368.47 318.26L368.19 317.39L367.91 316.52L367.62 315.66L367.34 314.80L367.05 313.93L366.76 313.07L366.47 312.21L366.18 311.35L365.89 310.49L365.60 309.64L365.31 308.78L365.01 307.93L364.72 307.07L364.42 306.22L364.13 305.37L363.83 304.52L363.53 303.67L363.23 302.82L362.93 301.97L362.63 301.13L362.32 300.29L362.02 299.44L361.71 298.60L361.41 297.76L361.10 296.92L360.79 296.08L360.48 295.25L360.17 294.41L359.86 293.58L359.54 292.75L359.23 291.92L358.91 291.09L358.60 290.26L358.28 289.43L357.96 288.61L357.64 287.78L357.32 286.96L356.99 286.14L356.67 285.32L356.34 284.50L356.02 283.69L355.69 282.87L355.36 282.06L355.03 281.25L354.69 280.44L354.36 279.63L354.03 278.82L353.69 278.02L353.35 277.21L353.01 276.41L352.67 275.61L352.33 274.81L351.99 274.02L351.64 273.22L351.30 272.43L350.95 271.64L350.60 270.85L350.25 270.06L349.90 269.28L349.54 268.49L349.19 267.71L348.83 266.93L348.47 266.15L348.11 265.38L347.75 264.60L347.39 263.83L347.02 263.06L346.66 262.29L346.29 261.52L345.92 260.76L345.55 260.00L345.18 259.24L344.80 258.48L344.43 257.72L344.05 256.97L343.67 256.22L343.29 255.47L342.91 254.72L342.52 253.98L342.14 253.24L341.75 252.50L341.36 251.76L340.97 251.02L340.57 250.29L340.18 249.56L339.78 248.83L339.38 248.10L338.98 247.38L338.58 246.66L338.18 245.94L337.77 245.23L337.36 244.51L336.95 243.80L336.54 243.09L336.13 242.39L335.71 241.69L335.29 240.99L334.87 240.29L334.45 239.59L334.03 238.90L333.60 238.21L333.18 237.53L332.75 236.84L332.32 236.16L331.88 235.49L331.45 234.81L331.01 234.14L330.57 233.47L330.13 232.81L329.68 232.14L329.24 231.48L328.79 230.83L328.34 230.17L327.89 229.52L327.43 228.88L326.98 228.23L326.52 227.59L326.06 226.96L325.59 226.32L325.13 225.69L324.66 225.06L324.19 224.44L323.72 223.82L323.25 223.20L322.77 222.59L322.29 221.98L321.81 221.37L321.33 220.77L320.84 220.17L320.35 219.58L319.86 218.99L319.37 218.40L318.88 217.81L318.38 217.23L317.88 216.66L317.38 216.08L316.88 215.52L316.37 214.95L315.87 214.39L315.36 213.83L314.84 213.28L314.33 212.73L313.81 212.19L313.29 211.65L312.77 211.11L312.25 210.58L311.72 210.05L311.19 209.53" stroke="#3a963a" stroke-width="1.1" fill="none"/>
<path d="M402.82 328.76L402.62 327.74L402.43 326.72L402.23 325.70L402.04 324.69L401.84 323.67L401.65 322.66L401.45 321.64L401.25 320.63L401.05 319.61L400.85 318.60L400.65 317.58L400.45 316.57L400.25 315.56L400.05 314.55L399.85 313.54L399.64 312.53L399.44 311.52L399.23 310.51L399.03 309.50L398.82 308.49L398.61 307.48L398.40 306.47L398.19 305.47L397.98 304.46L397.77 303.45L397.56 302.45L397.34 301.45L397.13 300.44L396.91 299.44L396.70 298.44L396.48 297.43L396.26 296.43L396.04 295.43L395.82 294.43L395.60 293.43L395.38 292.43L395.16 291.44L394.94 290.44L394.71 289.44L394.48 288.45L394.26 287.45L394.03 286.46L393.80 285.47L393.57 284.47L393.34 283.48L393.11 282.49L392.87 281.50L392.64 280.51L392.40 279.52L392.17 278.53L391.93 277.55L391.69 276.56L391.45 275.57L391.20 274.59L390.96 273.61L390.72 272.62L390.47 271.64L390.22 270.66L389.98 269.68L389.73 268.70L389.48 267.72L389.22 266.75L388.97 265.77L388.71 264.79L388.46 263.82L388.20 262.85L387.94 261.87L387.68 260.90L387.42 259.93L387.15 258.96L386.89 257.99L386.62 257.03L386.35 256.06L386.08 255.10L385.81 254.13L385.54 253.17L385.27 252.21L384.99 251.25L384.71 250.29L384.43 249.33L384.15 248.38L383.87 247.42L383.58 246.47L383.30 245.51L383.01 244.56L382.72 243.61L382.43 242.66L382.13 241.71L381.84 240.77L381.54 239.82L381.24 238.88L380.94 237.94L380.64 237.00L380.33 236.06L380.02 235.12L379.71 234.18L379.40 233.25L379.09 232.31L378.78 231.38L378.46 230.45L378.14 229.52L377.82 228.59L377.49 227.67L377.17 226.74L376.84 225.82L376.51 224.90L376.18 223.98L375.84 223.07L375.50 222.15L375.16 221.24L374.82 220.32L374.48 219.41L374.13 218.51L373.78 217.60L373.43 216.70L373.07 215.79L372.72 214.89L372.36 213.99L371.99 213.10L371.63 212.20L371.26 211.31L370.89 210.42L370.52 209.53L370.14 208.65L369.76 207.76L369.38 206.88L369.00 206.00L368.61 205.13L368.22 204.25L367.82 203.38L367.43 202.51L367.03 201.64L366.63 200.77L366.22 199.91L365.81 199.05L365.40 198.19L364.98 197.34L364.57 196.49L364.14 195.64L363.72 194.79L363.29 193.95L362.86 193.10L362.42 192.27L361.98 191.43L361.54 190.60L361.10 189.77L360.65 188.94L360.19 188.12L359.74 187.29L359.28 186.48L358.81 185.66L358.34 184.85L357.87 184.04L357.40 183.24L356.92 182.44L356.43 181.64L355.95 180.84L355.45 180.05L354.96 179.26L354.46 178.48L353.96 177.70L353.45 176.92L352.94 176.15L352.42 175.38L351.90 174.61L351.37 173.85L350.84 173.09L350.31 172.34L349.77 171.59L349.23 170.85L348.68 170.10L348.13 169.37L347.57 168.63L347.01 167.91L346.44 167.18L345.87 166.46L345.30 165.75L344.72 165.04L344.13 164.33L343.54 163.63L342.95 162.94L342.35 162.25L341.74 161.56L341.13 160.88L340.52 160.20L339.90 159.53L339.27 158.87L338.64 158.21L338.01 157.55L337.37 156.90L336.72 156.26L336.07 155.62L335.41 154.99L334.75 154.36L334.09 153.74L333.41 153.13L332.74 152.52L332.05 151.92L331.37 151.32L330.67 150.73" stroke="#ff3338" stroke-width="1.1" fill="none"/>
<path d="M426.81 305.20L426.70 304.10L426.59 302.99L426.48 301.88L426.37 300.78L426.26 299.67L426.14 298.57L426.03 297.46L425.92 296.35L425.81 295.25L425.69 294.14L425.58 293.04L425.46 291.94L425.35 290.83L425.23 289.73L425.11 288.62L425.00 287.52L424.88 286.42L424.76 285.31L424.64 284.21L424.52 283.11L424.40 282.00L424.28 280.90L424.16 279.80L424.03 278.70L423.91 277.59L423.79 276.49L423.66 275.39L423.54 274.29L423.41 273.19L423.28 272.09L423.16 270.99L423.03 269.89L422.90 268.79L422.77 267.69L422.64 266.59L422.51 265.49L422.37 264.39L422.24 263.29L422.11 262.19L421.97 261.09L421.84 260.00L421.70 258.90L421.56 257.80L421.42 256.70L421.28 255.61L421.14 254.51L421.00 253.42L420.86 252.32L420.72 251.22L420.57 250.13L420.43 249.03L420.28 247.94L420.14 246.85L419.99 245.75L419.84 244.66L419.69 243.56L419.54 242.47L419.39 241.38L419.23 240.29L419.08 239.20L418.92 238.10L418.77 237.01L418.61 235.92L418.45 234.83L418.29 233.74L418.13 232.65L417.96 231.56L417.80 230.47L417.63 229.39L417.47 228.30L417.30 227.21L417.13 226.12L416.96 225.04L416.79 223.95L416.61 222.87L416.44 221.78L416.26 220.70L416.08 219.61L415.90 218.53L415.72 217.45L415.54 216.36L415.36 215.28L415.17 214.20L414.98 213.12L414.79 212.04L414.60 210.96L414.41 209.88L414.22 208.80L414.02 207.72L413.82 206.65L413.62 205.57L413.42 204.49L413.22 203.42L413.01 202.34L412.81 201.27L412.60 200.19L412.39 199.12L412.17 198.05L411.96 196.98L411.74 195.90L411.52 194.83L411.30 193.76L411.07 192.70L410.85 191.63L410.62 190.56L410.39 189.49L410.15 188.43L409.92 187.36L409.68 186.30L409.44 185.24L409.19 184.17L408.95 183.11L408.70 182.05L408.45 180.99L408.19 179.93L407.94 178.88L407.68 177.82L407.41 176.76L407.15 175.71L406.88 174.65L406.61 173.60L406.33 172.55L406.05 171.50L405.77 170.45L405.48 169.40L405.20 168.35L404.90 167.31L404.61 166.26L404.31 165.22L404.01 164.18L403.70 163.14L403.39 162.10L403.08 161.06L402.76 160.02L402.43 158.99L402.11 157.95L401.78 156.92L401.44 155.89L401.10 154.86L400.76 153.83L400.41 152.80L400.06 151.78L399.70 150.75L399.34 149.73L398.97 148.71L398.60 147.70L398.22 146.68L397.84 145.66L397.45 144.65L397.05 143.64L396.65 142.63L396.25 141.63L395.84 140.62L395.42 139.62L394.99 138.62L394.57 137.62L394.13 136.62L393.69 135.63L393.24 134.64L392.78 133.65L392.32 132.67L391.85 131.68L391.37 130.70L390.88 129.72L390.39 128.75L389.89 127.78L389.38 126.81L388.87 125.84L388.34 124.88L387.81 123.92L387.26 122.96L386.71 122.00L386.15 121.05L385.58 120.11L385.00 119.16L384.42 118.22L383.82 117.29L383.21 116.36L382.59 115.43L381.96 114.51L381.32 113.59L380.66 112.67L380.00 111.76L379.33 110.85L378.64 109.95L377.94 109.05L377.23 108.16L376.50 107.28L375.76 106.39L375.01 105.52L374.25 104.65L373.47 103.78L372.68 102.92L371.87 102.07L371.05 101.23L370.21 100.38L369.36 99.55L368.49 98.72L367.60 97.90L366.70 97.09" stroke="#ff3338" stroke-width="1.1" fill="none"/>
<path d="M453.05 296.91L453.05 295.77L453.05 294.63L453.05 293.49L453.05 292.35L453.05 291.21L453.05 290.06L453.05 288.92L453.05 287.78L453.05 286.64L453.05 285.50L453.05 284.36L453.05 283.22L453.05 282.08L453.05 280.94L453.05 279.80L453.05 278.65L453.05 277.51L453.05 276.37L453.05 275.23L453.05 274.09L453.05 272.95L453.05 271.81L453.05 270.67L453.05 269.53L453.05 268.39L453.05 267.24L453.05 266.10L453.05 264.96L453.05 263.82L453.05 262.68L453.05 261.54L453.05 260.40L453.05 259.26L453.05 258.12L453.05 256.98L453.05 255.83L453.05 254.69L453.05 253.55L453.05 252.41L453.05 251.27L453.05 250.13L453.05 248.99L453.05 247.85L453.05 246.71L453.05 245.57L453.05 244.42L453.05 243.28L453.05 242.14L453.05 241.00L453.05 239.86L453.05 238.72L453.05 237.58L453.05 236.44L453.05 235.30L453.05 234.16L453.05 233.01L453.05 231.87L453.05 230.73L453.05 229.59L453.05 228.45L453.05 227.31L453.05 226.17L453.05 225.03L453.05 223.89L453.05 222.75L453.05 221.60L453.05 220.46L453.05 219.32L453.05 218.18L453.05 217.04L453.05 215.90L453.05 214.76L453.05 213.62L453.05 212.48L453.05 211.34L453.05 210.19L453.05 209.05L453.05 207.91L453.05 206.77L453.05 205.63L453.05 204.49L453.05 203.35L453.05 202.21L453.05 201.07L453.05 199.93L453.05 198.78L453.05 197.64L453.05 196.50L453.05 195.36L453.05 194.22L453.05 193.08L453.05 191.94L453.05 190.80L453.05 189.66L453.05 188.52L453.05 187.37L453.05 186.23L453.05 185.09L453.05 183.95L453.05 182.81L453.05 181.67L453.05 180.53L453.05 179.39L453.05 178.25L453.05 177.11L453.05 175.96L453.05 174.82L453.05 173.68L453.05 172.54L453.05 171.40L453.05 170.26L453.05 169.12L453.05 167.98L453.05 166.84L453.05 165.70L453.05 164.55L453.05 163.41L453.05 162.27L453.05 161.13L453.05 159.99L453.05 158.85L453.05 157.71L453.05 156.57L453.05 155.43L453.05 154.29L453.05 153.14L453.05 152.00L453.05 150.86L453.05 149.72L453.05 148.58L453.05 147.44L453.05 146.30L453.05 145.16L453.05 144.02L453.05 142.88L453.05 141.73L453.05 140.59L453.05 139.45L453.05 138.31L453.05 137.17L453.05 136.03L453.05 134.89L453.05 133.75L453.05 132.61L453.05 131.47L453.05 130.32L453.05 129.18L453.05 128.04L453.05 126.90L453.05 125.76L453.05 124.62L453.05 123.48L453.05 122.34L453.05 121.20L453.05 120.05L453.05 118.91L453.05 117.77L453.05 116.63L453.05 115.49L453.05 114.35L453.05 113.21L453.05 112.07L453.05 110.93L453.05 109.79L453.05 108.64L453.05 107.50L453.05 106.36L453.05 105.22L453.05 104.08L453.05 102.94L453.05 101.80L453.05 100.66L453.05 99.52L453.05 98.38L453.05 97.23L453.05 96.09L453.05 94.95L453.05 93.81L453.05 92.67L453.05 91.53L453.05 90.39L453.05 89.25L453.05 88.11L453.05 86.97L453.05 85.82L453.05 84.68L453.05 83.54L453.05 82.40L453.05 81.26L453.05 80.12L453.05 78.98L453.05 77.84L453.05 76.70L453.05 75.56L453.05 74.41L453.05 73.27L453.05 72.13L453.05 70.99L453.05 69.85L453.05 68.71" stroke="#ff3338" stroke-width="1.1" fill="none"/>
<path d="M479.29 305.20L479.40 304.10L479.51 302.99L479.62 301.88L479.73 300.78L479.84 299.67L479.96 298.57L480.07 297.46L480.18 296.35L480.29 295.25L480.41 294.14L480.52 293.04L480.64 291.94L480.75 290.83L480.87 289.73L480.99 288.62L481.10 287.52L481.22 286.42L481.34 285.31L481.46 284.21L481.58 283.11L481.70 282.00L481.82 280.90L481.94 279.80L482.07 278.70L482.19 277.59L482.31 276.49L482.44 275.39L482.56 274.29L482.69 273.19L482.82 272.09L482.94 270.99L483.07 269.89L483.20 268.79L483.33 267.69L483.46 266.59L483.59 265.49L483.73 264.39L483.86 263.29L483.99 262.19L484.13 261.09L484.26 260.00L484.40 258.90L484.54 257.80L484.68 256.70L484.82 255.61L484.96 254.51L485.10 253.42L485.24 252.32L485.38 251.22L485.53 250.13L485.67 249.03L485.82 247.94L485.96 246.85L486.11 245.75L486.26 244.66L486.41 243.56L486.56 242.47L486.71 241.38L486.87 240.29L487.02 239.20L487.18 238.10L487.33 237.01L487.49 235.92L487.65 234.83L487.81 233.74L487.97 232.65L488.14 231.56L488.30 230.47L488.47 229.39L488.63 228.30L488.80 227.21L488.97 226.12L489.14 225.04L489.31 223.95L489.49 222.87L489.66 221.78L489.84 220.70L490.02 219.61L490.20 218.53L490.38 217.45L490.56 216.36L490.74 215.28L490.93 214.20L491.12 213.12L491.31 212.04L491.50 210.96L491.69 209.88L491.88 208.80L492.08 207.72L492.28 206.65L492.48 205.57L492.68 204.49L492.88 203.42L493.09 202.34L493.29 201.27L493.50 200.19L493.71 199.12L493.93 198.05L494.14 196.98L494.36 195.90L494.58 194.83L494.80 193.76L495.03 192.70L495.25 191.63L495.48 190.56L495.71 189.49L495.95 188.43L496.18 187.36L496.42 186.30L496.66 185.24L496.91 184.17L497.15 183.11L497.40 182.05L497.65 180.99L497.91 179.93L498.16 178.88L498.42 177.82L498.69 176.76L498.95 175.71L499.22 174.65L499.49 173.60L499.77 172.55L500.05 171.50L500.33 170.45L500.62 169.40L500.90 168.35L501.20 167.31L501.49 166.26L501.79 165.22L502.09 164.18L502.40 163.14L502.71 162.10L503.02 161.06L503.34 160.02L503.67 158.99L503.99 157.95L504.32 156.92L504.66 155.89L505.00 154.86L505.34 153.83L505.69 152.80L506.04 151.78L506.40 150.75L506.76 149.73L507.13 148.71L507.50 147.70L507.88 146.68L508.26 145.66L508.65 144.65L509.05 143.64L509.45 142.63L509.85 141.63L510.26 140.62L510.68 139.62L511.11 138.62L511.53 137.62L511.97 136.62L512.41 135.63L512.86 134.64L513.32 133.65L513.78 132.67L514.25 131.68L514.73 130.70L515.22 129.72L515.71 128.75L516.21 127.78L516.72 126.81L517.23 125.84L517.76 124.88L518.29 123.92L518.84 122.96L519.39 122.00L519.95 121.05L520.52 120.11L521.10 119.16L521.68 118.22L522.28 117.29L522.89 116.36L523.51 115.43L524.14 114.51L524.78 113.59L525.44 112.67L526.10 111.76L526.77 110.85L527.46 109.95L528.16 109.05L528.87 108.16L529.60 107.28L530.34 106.39L531.09 105.52L531.85 104.65L532.63 103.78L533.42 102.92L534.23 102.07L535.05 101.23L535.89 100.38L536.74 99.55L537.61 98.72L538.50 97.90L539.40 97.09" stroke="#ff3338" stroke-width="1.1" fill="none"/>
<path d="M503.28 328.76L503.48 327.74L503.67 326.72L503.87 325.70L504.06 324.69L504.26 323.67L504.45 322.66L504.65 321.64L504.85 320.63L505.05 319.61L505.25 318.60L505.45 317.58L505.65 316.57L505.85 315.56L506.05 314.55L506.25 313.54L506.46 312.53L506.66 311.52L506.87 310.51L507.07 309.50L507.28 308.49L507.49 307.48L507.70 306.47L507.91 305.47L508.12 304.46L508.33 303.45L508.54 302.45L508.76 301.45L508.97 300.44L509.19 299.44L509.40 298.44L509.62 297.43L509.84 296.43L510.06 295.43L510.28 294.43L510.50 293.43L510.72 292.43L510.94 291.44L511.16 290.44L511.39 289.44L511.62 288.45L511.84 287.45L512.07 286.46L512.30 285.47L512.53 284.47L512.76 283.48L512.99 282.49L513.23 281.50L513.46 280.51L513.70 279.52L513.93 278.53L514.17 277.55L514.41 276.56L514.65 275.57L514.90 274.59L515.14 273.61L515.38 272.62L515.63 271.64L515.88 270.66L516.12 269.68L516.37 268.70L516.62 267.72L516.88 266.75L517.13 265.77L517.39 264.79L517.64 263.82L517.90 262.85L518.16 261.87L518.42 260.90L518.68 259.93L518.95 258.96L519.21 257.99L519.48 257.03L519.75 256.06L520.02 255.10L520.29 254.13L520.56 253.17L520.83 252.21L521.11 251.25L521.39 250.29L521.67 249.33L521.95 248.38L522.23 247.42L522.52 246.47L522.80 245.51L523.09 244.56L523.38 243.61L523.67 242.66L523.97 241.71L524.26 240.77L524.56 239.82L524.86 238.88L525.16 237.94L525.46 237.00L525.77 236.06L526.08 235.12L526.39 234.18L526.70 233.25L527.01 232.31L527.32 231.38L527.64 230.45L527.96 229.52L528.28 228.59L528.61 227.67L528.93 226.74L529.26 225.82L529.59 224.90L529.92 223.98L530.26 223.07L530.60 222.15L530.94 221.24L531.28 220.32L531.62 219.41L531.97 218.51L532.32 217.60L532.67 216.70L533.03 215.79L533.38 214.89L533.74 213.99L534.11 213.10L534.47 212.20L534.84 211.31L535.21 210.42L535.58 209.53L535.96 208.65L536.34 207.76L536.72 206.88L537.10 206.00L537.49 205.13L537.88 204.25L538.28 203.38L538.67 202.51L539.07 201.64L539.47 200.77L539.88 199.91L540.29 199.05L540.70 198.19L541.12 197.34L541.53 196.49L541.96 195.64L542.38 194.79L542.81 193.95L543.24 193.10L543.68 192.27L544.12 191.43L544.56 190.60L545.00 189.77L545.45 188.94L545.91 188.12L546.36 187.29L546.82 186.48L547.29 185.66L547.76 184.85L548.23 184.04L548.70 183.24L549.18 182.44L549.67 181.64L550.15 180.84L550.65 180.05L551.14 179.26L551.64 178.48L552.14 177.70L552.65 176.92L553.16 176.15L553.68 175.38L554.20 174.61L554.73 173.85L555.26 173.09L555.79 172.34L556.33 171.59L556.87 170.85L557.42 170.10L557.97 169.37L558.53 168.63L559.09 167.91L559.66 167.18L560.23 166.46L560.80 165.75L561.38 165.04L561.97 164.33L562.56 163.63L563.15 162.94L563.75 162.25L564.36 161.56L564.97 160.88L565.58 160.20L566.20 159.53L566.83 158.87L567.46 158.21L568.09 157.55L568.73 156.90L569.38 156.26L570.03 155.62L570.69 154.99L571.35 154.36L572.01 153.74L572.69 153.13L573.36 152.52L574.05 151.92L574.73 151.32L575.43 150.73" stroke="#ff3338" stroke-width="1.1" fill="none"/>
<path d="M523.95 364.49L524.19 363.58L524.44 362.67L524.69 361.77L524.94 360.86L525.19 359.96L525.44 359.06L525.69 358.15L525.94 357.25L526.19 356.35L526.44 355.45L526.69 354.55L526.95 353.65L527.20 352.75L527.45 351.85L527.71 350.95L527.96 350.05L528.22 349.16L528.48 348.26L528.73 347.36L528.99 346.47L529.25 345.57L529.51 344.68L529.77 343.79L530.03 342.90L530.29 342.01L530.55 341.12L530.82 340.23L531.08 339.34L531.34 338.45L531.61 337.56L531.87 336.68L532.14 335.79L532.41 334.90L532.67 334.02L532.94 333.14L533.21 332.25L533.48 331.37L533.75 330.49L534.02 329.61L534.29 328.73L534.57 327.86L534.84 326.98L535.12 326.10L535.39 325.23L535.67 324.35L535.95 323.48L536.22 322.61L536.50 321.73L536.78 320.86L537.06 319.99L537.34 319.13L537.63 318.26L537.91 317.39L538.19 316.52L538.48 315.66L538.76 314.80L539.05 313.93L539.34 313.07L539.63 312.21L539.92 311.35L540.21 310.49L540.50 309.64L540.79 308.78L541.09 307.93L541.38 307.07L541.68 306.22L541.97 305.37L542.27 304.52L542.57 303.67L542.87 302.82L543.17 301.97L543.47 301.13L543.78 300.29L544.08 299.44L544.39 298.60L544.69 297.76L545.00 296.92L545.31 296.08L545.62 295.25L545.93 294.41L546.24 293.58L546.56 292.75L546.87 291.92L547.19 291.09L547.50 290.26L547.82 289.43L548.14 288.61L548.46 287.78L548.78 286.96L549.11 286.14L549.43 285.32L549.76 284.50L550.08 283.69L550.41 282.87L550.74 282.06L551.07 281.25L551.41 280.44L551.74 279.63L552.07 278.82L552.41 278.02L552.75 277.21L553.09 276.41L553.43 275.61L553.77 274.81L554.11 274.02L554.46 273.22L554.80 272.43L555.15 271.64L555.50 270.85L555.85 270.06L556.20 269.28L556.56 268.49L556.91 267.71L557.27 266.93L557.63 266.15L557.99 265.38L558.35 264.60L558.71 263.83L559.08 263.06L559.44 262.29L559.81 261.52L560.18 260.76L560.55 260.00L560.92 259.24L561.30 258.48L561.67 257.72L562.05 256.97L562.43 256.22L562.81 255.47L563.19 254.72L563.58 253.98L563.96 253.24L564.35 252.50L564.74 251.76L565.13 251.02L565.53 250.29L565.92 249.56L566.32 248.83L566.72 248.10L567.12 247.38L567.52 246.66L567.92 245.94L568.33 245.23L568.74 244.51L569.15 243.80L569.56 243.09L569.97 242.39L570.39 241.69L570.81 240.99L571.23 240.29L571.65 239.59L572.07 238.90L572.50 238.21L572.92 237.53L573.35 236.84L573.78 236.16L574.22 235.49L574.65 234.81L575.09 234.14L575.53 233.47L575.97 232.81L576.42 232.14L576.86 231.48L577.31 230.83L577.76 230.17L578.21 229.52L578.67 228.88L579.12 228.23L579.58 227.59L580.04 226.96L580.51 226.32L580.97 225.69L581.44 225.06L581.91 224.44L582.38 223.82L582.85 223.20L583.33 222.59L583.81 221.98L584.29 221.37L584.77 220.77L585.26 220.17L585.75 219.58L586.24 218.99L586.73 218.40L587.22 217.81L587.72 217.23L588.22 216.66L588.72 216.08L589.22 215.52L589.73 214.95L590.23 214.39L590.74 213.83L591.26 213.28L591.77 212.73L592.29 212.19L592.81 211.65L593.33 211.11L593.85 210.58L594.38 210.05L594.91 209.53" stroke="#3a963a" stroke-width="1.1" fill="none"/>
<path d="M541.39 409.04L541.67 408.24L541.95 407.45L542.23 406.65L542.52 405.86L542.80 405.06L543.08 404.27L543.36 403.48L543.64 402.68L543.93 401.89L544.21 401.10L544.49 400.31L544.78 399.51L545.06 398.72L545.35 397.93L545.63 397.14L545.92 396.35L546.20 395.56L546.49 394.77L546.77 393.99L547.06 393.20L547.34 392.41L547.63 391.62L547.92 390.84L548.21 390.05L548.49 389.27L548.78 388.48L549.07 387.70L549.36 386.92L549.65 386.13L549.94 385.35L550.23 384.57L550.52 383.79L550.81 383.01L551.10 382.23L551.39 381.45L551.69 380.67L551.98 379.89L552.27 379.11L552.56 378.34L552.86 377.56L553.15 376.78L553.45 376.01L553.74 375.24L554.04 374.46L554.33 373.69L554.63 372.92L554.93 372.15L555.22 371.38L555.52 370.61L555.82 369.84L556.12 369.07L556.42 368.30L556.72 367.53L557.02 366.77L557.32 366.00L557.62 365.24L557.92 364.48L558.23 363.71L558.53 362.95L558.83 362.19L559.14 361.43L559.44 360.67L559.75 359.91L560.05 359.15L560.36 358.40L560.66 357.64L560.97 356.89L561.28 356.13L561.59 355.38L561.90 354.63L562.21 353.88L562.52 353.13L562.83 352.38L563.14 351.63L563.45 350.88L563.77 350.13L564.08 349.39L564.39 348.64L564.71 347.90L565.02 347.16L565.34 346.42L565.66 345.68L565.97 344.94L566.29 344.20L566.61 343.46L566.93 342.73L567.25 341.99L567.57 341.26L567.89 340.52L568.21 339.79L568.54 339.06L568.86 338.33L569.18 337.61L569.51 336.88L569.83 336.15L570.16 335.43L570.49 334.71L570.82 333.98L571.14 333.26L571.47 332.54L571.80 331.83L572.13 331.11L572.47 330.39L572.80 329.68L573.13 328.97L573.47 328.25L573.80 327.54L574.14 326.83L574.47 326.13L574.81 325.42L575.15 324.72L575.49 324.01L575.83 323.31L576.17 322.61L576.51 321.91L576.85 321.21L577.19 320.52L577.54 319.82L577.88 319.13L578.23 318.44L578.58 317.75L578.92 317.06L579.27 316.37L579.62 315.68L579.97 315.00L580.32 314.32L580.67 313.63L581.03 312.96L581.38 312.28L581.74 311.60L582.09 310.93L582.45 310.25L582.81 309.58L583.16 308.91L583.52 308.25L583.88 307.58L584.24 306.91L584.61 306.25L584.97 305.59L585.33 304.93L585.70 304.27L586.07 303.62L586.43 302.96L586.80 302.31L587.17 301.66L587.54 301.01L587.91 300.37L588.29 299.72L588.66 299.08L589.03 298.44L589.41 297.80L589.78 297.17L590.16 296.53L590.54 295.90L590.92 295.27L591.30 294.64L591.68 294.01L592.07 293.39L592.45 292.76L592.84 292.14L593.22 291.52L593.61 290.91L594.00 290.29L594.39 289.68L594.78 289.07L595.17 288.46L595.56 287.86L595.96 287.25L596.35 286.65L596.75 286.05L597.14 285.46L597.54 284.86L597.94 284.27L598.34 283.68L598.74 283.09L599.15 282.51L599.55 281.93L599.96 281.35L600.36 280.77L600.77 280.19L601.18 279.62L601.59 279.05L602.00 278.48L602.41 277.91L602.83 277.35L603.24 276.79L603.66 276.23L604.07 275.68L604.49 275.12L604.91 274.57L605.33 274.03L605.76 273.48L606.18 272.94L606.60 272.40L607.03 271.86L607.45 271.33L607.88 270.79L608.31 270.27L608.74 269.74L609.17 269.22" stroke="#ff3338" stroke-width="1.1" fill="none"/>
<path d="M560.60 449.91L560.91 449.21L561.21 448.51L561.52 447.81L561.82 447.11L562.13 446.41L562.44 445.71L562.74 445.01L563.05 444.31L563.36 443.61L563.66 442.92L563.97 442.22L564.28 441.52L564.58 440.82L564.89 440.12L565.20 439.42L565.50 438.73L565.81 438.03L566.12 437.33L566.42 436.63L566.73 435.93L567.04 435.24L567.34 434.54L567.65 433.84L567.96 433.15L568.27 432.45L568.57 431.75L568.88 431.06L569.19 430.36L569.50 429.66L569.80 428.97L570.11 428.27L570.42 427.58L570.73 426.88L571.04 426.19L571.35 425.49L571.65 424.80L571.96 424.10L572.27 423.41L572.58 422.72L572.89 422.02L573.20 421.33L573.51 420.64L573.82 419.95L574.13 419.25L574.44 418.56L574.75 417.87L575.06 417.18L575.37 416.49L575.68 415.80L575.99 415.11L576.30 414.42L576.62 413.73L576.93 413.04L577.24 412.35L577.55 411.67L577.86 410.98L578.18 410.29L578.49 409.60L578.80 408.92L579.11 408.23L579.43 407.55L579.74 406.86L580.06 406.18L580.37 405.49L580.68 404.81L581.00 404.13L581.31 403.45L581.63 402.76L581.94 402.08L582.26 401.40L582.58 400.72L582.89 400.04L583.21 399.36L583.53 398.68L583.84 398.00L584.16 397.33L584.48 396.65L584.80 395.97L585.11 395.30L585.43 394.62L585.75 393.95L586.07 393.27L586.39 392.60L586.71 391.93L587.03 391.26L587.35 390.58L587.67 389.91L587.99 389.24L588.31 388.57L588.63 387.90L588.96 387.24L589.28 386.57L589.60 385.90L589.93 385.24L590.25 384.57L590.57 383.91L590.90 383.24L591.22 382.58L591.55 381.92L591.87 381.26L592.20 380.60L592.53 379.94L592.85 379.28L593.18 378.62L593.51 377.96L593.83 377.30L594.16 376.65L594.49 375.99L594.82 375.34L595.15 374.69L595.48 374.03L595.81 373.38L596.14 372.73L596.47 372.08L596.80 371.43L597.14 370.79L597.47 370.14L597.80 369.49L598.14 368.85L598.47 368.20L598.80 367.56L599.14 366.92L599.47 366.28L599.81 365.64L600.15 365.00L600.48 364.36L600.82 363.72L601.16 363.09L601.50 362.45L601.84 361.82L602.18 361.18L602.52 360.55L602.86 359.92L603.20 359.29L603.54 358.66L603.88 358.03L604.22 357.41L604.57 356.78L604.91 356.16L605.25 355.54L605.60 354.91L605.94 354.29L606.29 353.67L606.64 353.06L606.98 352.44L607.33 351.82L607.68 351.21L608.03 350.59L608.37 349.98L608.72 349.37L609.07 348.76L609.43 348.15L609.78 347.55L610.13 346.94L610.48 346.33L610.83 345.73L611.19 345.13L611.54 344.53L611.90 343.93L612.25 343.33L612.61 342.73L612.97 342.14L613.32 341.55L613.68 340.95L614.04 340.36L614.40 339.77L614.76 339.18L615.12 338.60L615.48 338.01L615.84 337.43L616.21 336.85L616.57 336.27L616.93 335.69L617.30 335.11L617.66 334.53L618.03 333.96L618.40 333.38L618.76 332.81L619.13 332.24L619.50 331.67L619.87 331.11L620.24 330.54L620.61 329.98L620.98 329.41L621.35 328.85L621.72 328.30" stroke="#ff3338" stroke-width="1.1" fill="none"/>
<path d="M601.83 450.10L602.14 449.44L602.46 448.79L602.78 448.13L603.09 447.48L603.41 446.82L603.73 446.16L604.04 445.51L604.36 444.85L604.68 444.20L605.00 443.54L605.31 442.89L605.63 442.23L605.95 441.58L606.27 440.92L606.58 440.27L606.90 439.61L607.22 438.96L607.54 438.30L607.85 437.65L608.17 436.99L608.49 436.34L608.81 435.68L609.12 435.03L609.44 434.37L609.76 433.72L610.08 433.07L610.40 432.41L610.72 431.76L611.03 431.11L611.35 430.46L611.67 429.80L611.99 429.15L612.31 428.50L612.63 427.85L612.95 427.20L613.27 426.54L613.59 425.89L613.91 425.24L614.22 424.59L614.54 423.94L614.86 423.29L615.18 422.64L615.50 421.99L615.83 421.34L616.15 420.70L616.47 420.05L616.79 419.40L617.11 418.75L617.43 418.10L617.75 417.46L618.07 416.81L618.39 416.17L618.72 415.52L619.04 414.87L619.36 414.23L619.68 413.58L620.01 412.94L620.33 412.30L620.65 411.65L620.97 411.01L621.30 410.37L621.62 409.73L621.95 409.09L622.27 408.44L622.59 407.80L622.92 407.16L623.24 406.52L623.57 405.89L623.89 405.25L624.22 404.61L624.54 403.97L624.87 403.33L625.20 402.70L625.52 402.06L625.85 401.43L626.18 400.79L626.50 400.16L626.83 399.53L627.16 398.89L627.49 398.26L627.82 397.63L628.15 397.00L628.47 396.37L628.80 395.74L629.13 395.11L629.46 394.48L629.79 393.85L630.12 393.22L630.45 392.60L630.79 391.97L631.12 391.35L631.45 390.72L631.78 390.10L632.11 389.48L632.45 388.85L632.78 388.23L633.11 387.61L633.45 386.99L633.78 386.37L634.11 385.75" stroke="#ff3338" stroke-width="1.1" fill="none"/>
<path d="M643.36 449.60L643.66 448.90L643.97 448.20L644.28 447.50L644.58 446.80L644.89 446.10L645.19 445.40L645.50 444.70L645.81 444.00L646.11 443.31L646.42 442.61L646.73 441.91L647.03 441.21L647.34 440.51" stroke="#ff3338" stroke-width="1.1" fill="none"/>
<text x="130.80" y="405.62" font-size="12.3" fill="#626262" font-family="'Liberation Serif', serif" textLength="13.6" lengthAdjust="spacing" >10</text><text x="145.00" y="401.02" font-size="10.5" fill="#626262" font-family="'Liberation Serif', serif" >o</text>
<text x="130.80" y="356.94" font-size="12.3" fill="#626262" font-family="'Liberation Serif', serif" textLength="13.6" lengthAdjust="spacing" >20</text><text x="145.00" y="352.34" font-size="10.5" fill="#626262" font-family="'Liberation Serif', serif" >o</text>
<text x="130.80" y="308.27" font-size="12.3" fill="#626262" font-family="'Liberation Serif', serif" textLength="13.6" lengthAdjust="spacing" >30</text><text x="145.00" y="303.67" font-size="10.5" fill="#626262" font-family="'Liberation Serif', serif" >o</text>
<text x="130.80" y="259.59" font-size="12.3" fill="#626262" font-family="'Liberation Serif', serif" textLength="13.6" lengthAdjust="spacing" >40</text><text x="145.00" y="254.99" font-size="10.5" fill="#626262" font-family="'Liberation Serif', serif" >o</text>
<text x="130.80" y="210.91" font-size="12.3" fill="#626262" font-family="'Liberation Serif', serif" textLength="13.6" lengthAdjust="spacing" >50</text><text x="145.00" y="206.31" font-size="10.5" fill="#626262" font-family="'Liberation Serif', serif" >o</text>
<text x="130.80" y="162.23" font-size="12.3" fill="#626262" font-family="'Liberation Serif', serif" textLength="13.6" lengthAdjust="spacing" >60</text><text x="145.00" y="157.63" font-size="10.5" fill="#626262" font-family="'Liberation Serif', serif" >o</text>
<text x="130.80" y="113.56" font-size="12.3" fill="#626262" font-family="'Liberation Serif', serif" textLength="13.6" lengthAdjust="spacing" >70</text><text x="145.00" y="108.96" font-size="10.5" fill="#626262" font-family="'Liberation Serif', serif" >o</text>
<text x="130.80" y="64.88" font-size="12.3" fill="#626262" font-family="'Liberation Serif', serif" textLength="13.6" lengthAdjust="spacing" >80</text><text x="145.00" y="60.28" font-size="10.5" fill="#626262" font-family="'Liberation Serif', serif" >o</text>
<text x="130.80" y="16.20" font-size="12.3" fill="#626262" font-family="'Liberation Serif', serif" textLength="13.6" lengthAdjust="spacing" >90</text><text x="145.00" y="11.60" font-size="10.5" fill="#626262" font-family="'Liberation Serif', serif" >o</text>
<text x="195.34" y="463.20" font-size="12.3" fill="#626262" font-family="'Liberation Serif', serif" textLength="13.0" lengthAdjust="spacing" >30</text><text x="208.94" y="458.60" font-size="10.5" fill="#626262" font-family="'Liberation Serif', serif" >o</text>
<text x="244.93" y="463.20" font-size="12.3" fill="#626262" font-family="'Liberation Serif', serif" textLength="13.0" lengthAdjust="spacing" >60</text><text x="258.53" y="458.60" font-size="10.5" fill="#626262" font-family="'Liberation Serif', serif" >o</text>
<text x="294.52" y="463.20" font-size="12.3" fill="#626262" font-family="'Liberation Serif', serif" textLength="13.0" lengthAdjust="spacing" >90</text><text x="308.12" y="458.60" font-size="10.5" fill="#626262" font-family="'Liberation Serif', serif" >o</text>
<text x="341.22" y="463.20" font-size="12.3" fill="#626262" font-family="'Liberation Serif', serif" textLength="18.8" lengthAdjust="spacing" >120</text><text x="360.62" y="458.60" font-size="10.5" fill="#626262" font-family="'Liberation Serif', serif" >o</text>
<text x="390.81" y="463.20" font-size="12.3" fill="#626262" font-family="'Liberation Serif', serif" textLength="18.8" lengthAdjust="spacing" >150</text><text x="410.21" y="458.60" font-size="10.5" fill="#626262" font-family="'Liberation Serif', serif" >o</text>
<text x="440.40" y="463.20" font-size="12.3" fill="#626262" font-family="'Liberation Serif', serif" textLength="18.8" lengthAdjust="spacing" >180</text><text x="459.80" y="458.60" font-size="10.5" fill="#626262" font-family="'Liberation Serif', serif" >o</text>
<text x="489.04" y="463.20" font-size="12.3" fill="#626262" font-family="'Liberation Serif', serif" textLength="20.7" lengthAdjust="spacing" >210</text><text x="510.34" y="458.60" font-size="10.5" fill="#626262" font-family="'Liberation Serif', serif" >o</text>
<text x="538.63" y="463.20" font-size="12.3" fill="#626262" font-family="'Liberation Serif', serif" textLength="20.7" lengthAdjust="spacing" >240</text><text x="559.93" y="458.60" font-size="10.5" fill="#626262" font-family="'Liberation Serif', serif" >o</text>
<text x="588.23" y="463.20" font-size="12.3" fill="#626262" font-family="'Liberation Serif', serif" textLength="20.7" lengthAdjust="spacing" >270</text><text x="609.53" y="458.60" font-size="10.5" fill="#626262" font-family="'Liberation Serif', serif" >o</text>
<text x="637.82" y="463.20" font-size="12.3" fill="#626262" font-family="'Liberation Serif', serif" textLength="20.7" lengthAdjust="spacing" >300</text><text x="659.12" y="458.60" font-size="10.5" fill="#626262" font-family="'Liberation Serif', serif" >o</text>
<text x="687.41" y="463.20" font-size="12.3" fill="#626262" font-family="'Liberation Serif', serif" textLength="20.7" lengthAdjust="spacing" >330</text><text x="708.71" y="458.60" font-size="10.5" fill="#626262" font-family="'Liberation Serif', serif" >o</text>
<text x="737.00" y="463.20" font-size="12.3" fill="#626262" font-family="'Liberation Serif', serif" textLength="20.7" lengthAdjust="spacing" >360</text><text x="758.30" y="458.60" font-size="10.5" fill="#626262" font-family="'Liberation Serif', serif" >o</text>
<text transform="translate(125.4 279.9) rotate(-90) scale(1.13 1)" font-size="12.2" fill="#626262" font-family="'Liberation Serif', serif" textLength="26.3" lengthAdjust="spacing">Solar</text>
<text transform="translate(125.4 241.6) rotate(-90) scale(1.13 1)" font-size="12.2" fill="#626262" font-family="'Liberation Serif', serif" textLength="53.5" lengthAdjust="spacing">Elevation</text>
<text transform="translate(342.4 477.6) scale(1.13 1)" font-size="12.2" fill="#626262" font-family="'Liberation Serif', serif" textLength="22.1" lengthAdjust="spacing">East</text>
<text x="374.60" y="477.60" font-size="12.2" fill="#626262" font-family="'Liberation Serif', serif" textLength="23.8" lengthAdjust="spacingAndGlyphs" >&lt;--</text>
<text transform="translate(405.5 477.6) scale(1.13 1)" font-size="12.2" fill="#626262" font-family="'Liberation Serif', serif" textLength="27.7" lengthAdjust="spacing">Solar</text>
<text transform="translate(443.9 477.6) scale(1.13 1)" font-size="12.2" fill="#626262" font-family="'Liberation Serif', serif" textLength="48.4" lengthAdjust="spacing">Azimuth</text>
<text x="505.80" y="477.60" font-size="12.2" fill="#626262" font-family="'Liberation Serif', serif" textLength="23.4" lengthAdjust="spacingAndGlyphs" >--&gt;</text>
<text transform="translate(536.7 477.6) scale(1.13 1)" font-size="12.2" fill="#626262" font-family="'Liberation Serif', serif" textLength="23.0" lengthAdjust="spacing">West</text>
<rect x="164.4" y="20.3" width="130.4" height="67.5" fill="#fff" stroke="#8c8cff" stroke-width="1.15"/>
<text x="167.40" y="31.35" font-size="10.3" fill="#4444ff" font-family="'Liberation Serif', serif" textLength="123.9" lengthAdjust="spacing" >(c) Univ. of Oregon SRML</text>
<text x="167.40" y="42.20" font-size="10.3" fill="#4444ff" font-family="'Liberation Serif', serif" textLength="63.8" lengthAdjust="spacing" >Sponsor: ETO</text>
<text x="167.40" y="53.05" font-size="10.3" fill="#4444ff" font-family="'Liberation Serif', serif" textLength="112.1" lengthAdjust="spacing" >Lat: 35.09; Long: −89.81</text>
<text x="167.40" y="63.90" font-size="10.3" fill="#4444ff" font-family="'Liberation Serif', serif" textLength="105.1" lengthAdjust="spacing" >(Solar) time zone: −6</text>
<text x="229.90" y="439.30" font-size="9.6" fill="#ff3338" font-family="'Liberation Serif', serif" >5</text>
<text transform="translate(239.40 439.30) scale(0.81 1)" font-size="9.6" letter-spacing="1.1" fill="#ff3338" font-family="'Liberation Serif', serif">AM</text>
<text x="243.00" y="386.10" font-size="9.6" fill="#ff3338" font-family="'Liberation Serif', serif" >6</text>
<text transform="translate(252.60 386.10) scale(0.81 1)" font-size="9.6" letter-spacing="1.1" fill="#ff3338" font-family="'Liberation Serif', serif">AM</text>
<text x="255.40" y="328.20" font-size="9.6" fill="#ff3338" font-family="'Liberation Serif', serif" >7</text>
<text transform="translate(264.90 328.20) scale(0.81 1)" font-size="9.6" letter-spacing="1.1" fill="#ff3338" font-family="'Liberation Serif', serif">AM</text>
<text x="268.10" y="269.30" font-size="9.6" fill="#ff3338" font-family="'Liberation Serif', serif" >8</text>
<text transform="translate(277.70 269.30) scale(0.81 1)" font-size="9.6" letter-spacing="1.1" fill="#ff3338" font-family="'Liberation Serif', serif">AM</text>
<text x="282.20" y="209.60" font-size="9.6" fill="#3a963a" font-family="'Liberation Serif', serif" >9</text>
<text transform="translate(292.10 209.60) scale(0.81 1)" font-size="9.6" letter-spacing="1.1" fill="#3a963a" font-family="'Liberation Serif', serif">AM</text>
<text x="297.80" y="151.10" font-size="9.6" fill="#ff3338" font-family="'Liberation Serif', serif" textLength="9.3" lengthAdjust="spacing" >10</text>
<text transform="translate(311.70 151.10) scale(0.81 1)" font-size="9.6" letter-spacing="1.1" fill="#ff3338" font-family="'Liberation Serif', serif">AM</text>
<text x="335.30" y="97.00" font-size="9.6" fill="#ff3338" font-family="'Liberation Serif', serif" textLength="9.3" lengthAdjust="spacing" >11</text>
<text transform="translate(347.60 97.00) scale(0.81 1)" font-size="9.6" letter-spacing="1.1" fill="#ff3338" font-family="'Liberation Serif', serif">AM</text>
<text x="419.70" y="69.00" font-size="9.6" fill="#ff3338" font-family="'Liberation Serif', serif" textLength="9.3" lengthAdjust="spacing" >12</text>
<text transform="translate(435.00 69.00) scale(0.9 1)" font-size="9.6" letter-spacing="1.3" fill="#ff3338" font-family="'Liberation Serif', serif">PM</text>
<text x="543.30" y="97.00" font-size="9.6" fill="#ff3338" font-family="'Liberation Serif', serif" >1</text>
<text transform="translate(552.00 97.00) scale(0.9 1)" font-size="9.6" letter-spacing="1.3" fill="#ff3338" font-family="'Liberation Serif', serif">PM</text>
<text x="579.30" y="150.70" font-size="9.6" fill="#ff3338" font-family="'Liberation Serif', serif" >2</text>
<text transform="translate(588.70 150.70) scale(0.9 1)" font-size="9.6" letter-spacing="1.3" fill="#ff3338" font-family="'Liberation Serif', serif">PM</text>
<text x="598.90" y="209.60" font-size="9.6" fill="#3a963a" font-family="'Liberation Serif', serif" >3</text>
<text transform="translate(608.30 209.60) scale(0.9 1)" font-size="9.6" letter-spacing="1.3" fill="#3a963a" font-family="'Liberation Serif', serif">PM</text>
<text x="612.50" y="269.30" font-size="9.6" fill="#ff3338" font-family="'Liberation Serif', serif" >4</text>
<text transform="translate(622.30 269.30) scale(0.9 1)" font-size="9.6" letter-spacing="1.3" fill="#ff3338" font-family="'Liberation Serif', serif">PM</text>
<text x="625.00" y="328.20" font-size="9.6" fill="#ff3338" font-family="'Liberation Serif', serif" >5</text>
<text transform="translate(634.80 328.20) scale(0.9 1)" font-size="9.6" letter-spacing="1.3" fill="#ff3338" font-family="'Liberation Serif', serif">PM</text>
<text x="637.00" y="386.10" font-size="9.6" fill="#ff3338" font-family="'Liberation Serif', serif" >6</text>
<text transform="translate(646.80 386.10) scale(0.9 1)" font-size="9.6" letter-spacing="1.3" fill="#ff3338" font-family="'Liberation Serif', serif">PM</text>
<text x="650.50" y="439.30" font-size="9.6" fill="#ff3338" font-family="'Liberation Serif', serif" >7</text>
<text transform="translate(660.30 439.30) scale(0.9 1)" font-size="9.6" letter-spacing="1.3" fill="#ff3338" font-family="'Liberation Serif', serif">PM</text>
<g transform="translate(575.00 166.00) rotate(74.5)" stroke="#4444ff" stroke-width="0.18"><text x="0.00" y="0.00" font-size="9.6" fill="#4444ff" font-family="'Liberation Serif', serif" textLength="15.8" lengthAdjust="spacing" >Jun</text><text x="22.00" y="0.00" font-size="9.6" fill="#4444ff" font-family="'Liberation Serif', serif" textLength="10.5" lengthAdjust="spacing" >21</text></g>
<g transform="translate(566.50 173.70) rotate(72)" stroke="#4444ff" stroke-width="0.18"><text x="0.00" y="0.00" font-size="9.6" fill="#4444ff" font-family="'Liberation Serif', serif" textLength="15.8" lengthAdjust="spacing" >May</text><text x="21.80" y="0.00" font-size="9.6" fill="#4444ff" font-family="'Liberation Serif', serif" textLength="10.5" lengthAdjust="spacing" >21</text></g>
<g transform="translate(548.00 199.40) rotate(71)" stroke="#4444ff" stroke-width="0.18"><text x="0.00" y="0.00" font-size="9.6" fill="#4444ff" font-family="'Liberation Serif', serif" textLength="15.8" lengthAdjust="spacing" >Apr</text><text x="22.50" y="0.00" font-size="9.6" fill="#4444ff" font-family="'Liberation Serif', serif" textLength="10.5" lengthAdjust="spacing" >20</text></g>
<g transform="translate(528.70 240.00) rotate(68.5)" stroke="#4444ff" stroke-width="0.18"><text x="0.00" y="0.00" font-size="9.6" fill="#4444ff" font-family="'Liberation Serif', serif" textLength="15.8" lengthAdjust="spacing" >Mar</text><text x="22.50" y="0.00" font-size="9.6" fill="#4444ff" font-family="'Liberation Serif', serif" textLength="10.5" lengthAdjust="spacing" >20</text></g>
<g transform="translate(513.20 283.30) rotate(66)" stroke="#4444ff" stroke-width="0.18"><text x="0.00" y="0.00" font-size="9.6" fill="#4444ff" font-family="'Liberation Serif', serif" textLength="15.8" lengthAdjust="spacing" >Feb</text><text x="22.50" y="0.00" font-size="9.6" fill="#4444ff" font-family="'Liberation Serif', serif" textLength="10.5" lengthAdjust="spacing" >20</text></g>
<g transform="translate(505.20 318.80) rotate(66)" stroke="#4444ff" stroke-width="0.18"><text x="0.00" y="0.00" font-size="9.6" fill="#4444ff" font-family="'Liberation Serif', serif" textLength="15.8" lengthAdjust="spacing" >Jan</text><text x="22.50" y="0.00" font-size="9.6" fill="#4444ff" font-family="'Liberation Serif', serif" textLength="10.5" lengthAdjust="spacing" >21</text></g>
<g transform="translate(501.00 333.60) rotate(64.5)" stroke="#4444ff" stroke-width="0.18"><text x="0.00" y="0.00" font-size="9.6" fill="#4444ff" font-family="'Liberation Serif', serif" textLength="15.8" lengthAdjust="spacing" >Dec</text><text x="19.50" y="0.00" font-size="9.6" fill="#4444ff" font-family="'Liberation Serif', serif" textLength="10.5" lengthAdjust="spacing" >21</text></g>
<path d="M155.50 363.4H524.00" stroke="#008000" stroke-width="1.85" stroke-dasharray="7 3.2" fill="none"/>
<path d="M382.70 363.4V450.10" stroke="#008000" stroke-width="1.7" stroke-dasharray="10 3.3" fill="none"/>
<path d="M453.30 363.4V450.10" stroke="#008000" stroke-width="1.7" stroke-dasharray="10 3.3" fill="none"/>
<path d="M524.00 363.4V450.10" stroke="#008000" stroke-width="1.7" stroke-dasharray="7.7 3.3" fill="none"/>
<path d="M155.80 363.4l-8.60 -3.7v7.4z" fill="#008000"/>
<path d="M382.10 363.4l7.70 -3.7v7.4z" fill="#008000"/>
<path d="M453.30 363.4l-7.70 -3.7v7.4z" fill="#008000"/>
<path d="M453.30 363.4l7.70 -3.7v7.4z" fill="#008000"/>
<path d="M524.60 363.4l-8.20 -3.7v7.4z" fill="#008000"/>
<rect x="396" y="383" width="116.5" height="13.6" fill="#fff"/><rect x="405.5" y="330" width="26" height="19.8" fill="#fff"/><rect x="476" y="330" width="26" height="19.8" fill="#fff"/>
<text x="406.80" y="345.30" font-size="14.2" fill="#008000" font-family="'Liberation Sans', sans-serif" textLength="21.3" lengthAdjust="spacing" >44°</text>
<text x="477.00" y="345.30" font-size="14.2" fill="#008000" font-family="'Liberation Sans', sans-serif" textLength="21.3" lengthAdjust="spacing" >44°</text>
<text x="397.00" y="394.00" font-size="10.4" fill="#2f962f" font-family="'Liberation Sans', sans-serif" textLength="114.0" lengthAdjust="spacingAndGlyphs" >AZIMUTH CORRECTION = 44°</text>
<text x="10.00" y="366.80" font-size="10" fill="#2f952f" font-family="'Liberation Sans', sans-serif" textLength="124.0" lengthAdjust="spacingAndGlyphs" >SOLAR ELEVATION ANGLE = 17°</text>
</svg>
</body></html>
